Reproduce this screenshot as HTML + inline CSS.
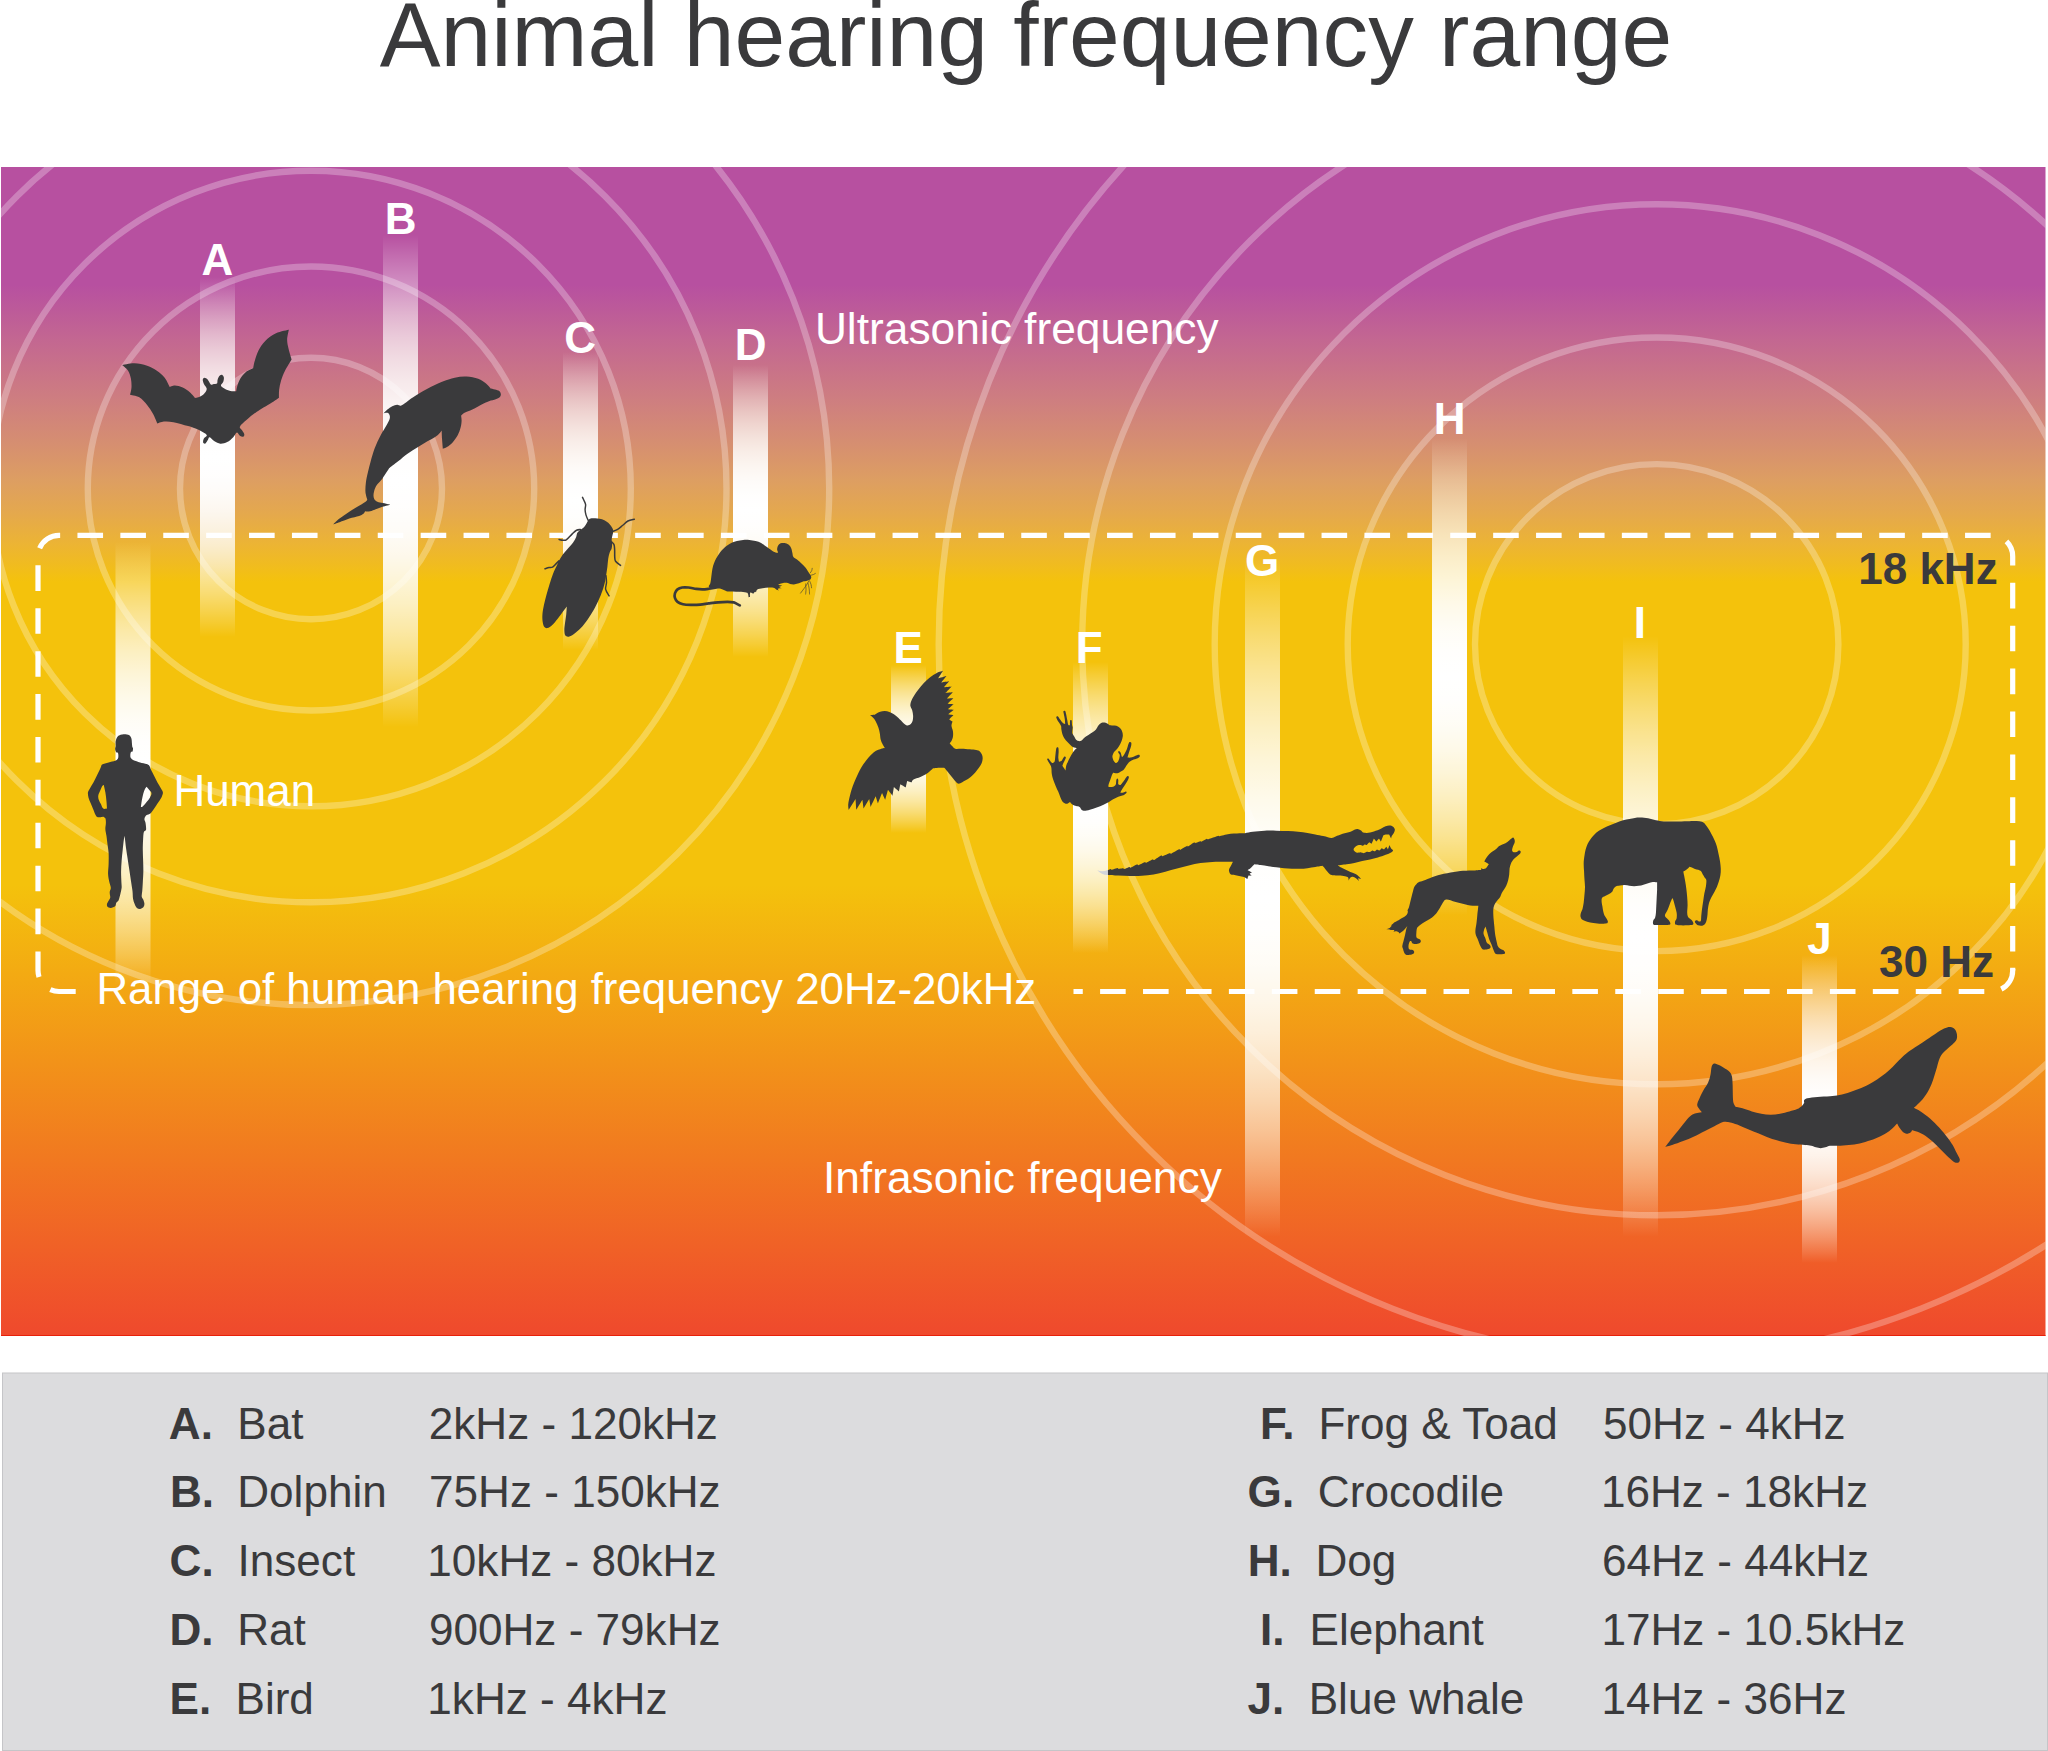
<!DOCTYPE html>
<html lang="en">
<head>
<meta charset="utf-8">
<title>Animal hearing frequency range</title>
<style>
html,body{margin:0;padding:0;background:#fff;}
body{width:2048px;height:1751px;overflow:hidden;}
svg{display:block;}
text{font-family:"Liberation Sans",Arial,Helvetica,sans-serif;}
.lbl{font-weight:bold;font-size:44px;fill:#fff;text-anchor:middle;}
.cap{font-size:44px;fill:#fff;}
.hz{font-weight:bold;font-size:44px;fill:#3a3a3c;}
.lg{font-size:45px;fill:#3a3a3c;}
.lgb{font-size:45px;fill:#3a3a3c;font-weight:bold;}
.an{fill:#3a3a3c;}
</style>
</head>
<body>
<svg xmlns="http://www.w3.org/2000/svg" width="2048" height="1751" viewBox="0 0 2048 1751">
<defs>
<linearGradient id="bg" x1="0" y1="0" x2="0" y2="1">
<stop offset="0.0000" stop-color="#b750a0"/>
<stop offset="0.1009" stop-color="#b750a0"/>
<stop offset="0.1480" stop-color="#c36791"/>
<stop offset="0.1993" stop-color="#ce7e80"/>
<stop offset="0.2335" stop-color="#d58d72"/>
<stop offset="0.2678" stop-color="#dd9e62"/>
<stop offset="0.2951" stop-color="#e4a84e"/>
<stop offset="0.3225" stop-color="#ecb434"/>
<stop offset="0.3430" stop-color="#f1bd1c"/>
<stop offset="0.3550" stop-color="#f4c20c"/>
<stop offset="0.6142" stop-color="#f4c20c"/>
<stop offset="1.0000" stop-color="#ef492d"/>
</linearGradient>
<linearGradient id="bar" x1="0" y1="0" x2="0" y2="1">
<stop offset="0" stop-color="#fff" stop-opacity="0.150"/>
<stop offset="0.04" stop-color="#fff" stop-opacity="0.281"/>
<stop offset="0.08" stop-color="#fff" stop-opacity="0.400"/>
<stop offset="0.12" stop-color="#fff" stop-opacity="0.509"/>
<stop offset="0.16" stop-color="#fff" stop-opacity="0.607"/>
<stop offset="0.2" stop-color="#fff" stop-opacity="0.694"/>
<stop offset="0.25" stop-color="#fff" stop-opacity="0.787"/>
<stop offset="0.3" stop-color="#fff" stop-opacity="0.864"/>
<stop offset="0.35" stop-color="#fff" stop-opacity="0.923"/>
<stop offset="0.4" stop-color="#fff" stop-opacity="0.966"/>
<stop offset="0.45" stop-color="#fff" stop-opacity="0.992"/>
<stop offset="0.5" stop-color="#fff" stop-opacity="1.000"/>
<stop offset="0.55" stop-color="#fff" stop-opacity="0.990"/>
<stop offset="0.6" stop-color="#fff" stop-opacity="0.960"/>
<stop offset="0.65" stop-color="#fff" stop-opacity="0.910"/>
<stop offset="0.7" stop-color="#fff" stop-opacity="0.840"/>
<stop offset="0.75" stop-color="#fff" stop-opacity="0.750"/>
<stop offset="0.8" stop-color="#fff" stop-opacity="0.640"/>
<stop offset="0.84" stop-color="#fff" stop-opacity="0.538"/>
<stop offset="0.88" stop-color="#fff" stop-opacity="0.422"/>
<stop offset="0.92" stop-color="#fff" stop-opacity="0.294"/>
<stop offset="0.96" stop-color="#fff" stop-opacity="0.154"/>
<stop offset="1" stop-color="#fff" stop-opacity="0.000"/>
</linearGradient>
<clipPath id="clip"><rect x="1" y="167" width="2044.5" height="1169"/></clipPath>
</defs>
<rect x="0" y="0" width="2048" height="1751" fill="#fff"/>
<text x="1026" y="65.8" font-size="91.2" text-anchor="middle" fill="#3a3a3c">Animal hearing frequency range</text>
<rect x="1" y="167" width="2044.5" height="1169" fill="url(#bg)"/>
<rect x="1" y="1335" width="2044.5" height="1" fill="#e8200a"/>
<g clip-path="url(#clip)" fill="none" stroke="#fff" stroke-opacity="0.28" stroke-width="6.4">
<ellipse cx="311" cy="488.5" rx="131" ry="130.7"/>
<ellipse cx="311" cy="488.5" rx="223.2" ry="222"/>
<ellipse cx="311" cy="488.5" rx="319.8" ry="317.8"/>
<ellipse cx="311" cy="488.5" rx="415.5" ry="413.8"/>
<ellipse cx="311" cy="488.5" rx="518.2" ry="516.6"/>
<ellipse cx="1656.7" cy="644.3" rx="181.7" ry="180.2"/>
<ellipse cx="1656.7" cy="644.3" rx="309" ry="306.8"/>
<ellipse cx="1656.7" cy="644.3" rx="442" ry="440"/>
<ellipse cx="1656.7" cy="644.3" rx="574.5" ry="571"/>
<ellipse cx="1656.7" cy="644.3" rx="718" ry="714.5"/>
</g>

<defs>
<linearGradient id="b0" x1="0" y1="0" x2="0" y2="1"><stop offset="0" stop-color="#fff" stop-opacity="0"/><stop offset="0.0000" stop-color="#fff" stop-opacity="0.000"/><stop offset="0.0400" stop-color="#fff" stop-opacity="0.154"/><stop offset="0.0800" stop-color="#fff" stop-opacity="0.294"/><stop offset="0.1200" stop-color="#fff" stop-opacity="0.422"/><stop offset="0.1600" stop-color="#fff" stop-opacity="0.538"/><stop offset="0.2000" stop-color="#fff" stop-opacity="0.640"/><stop offset="0.2500" stop-color="#fff" stop-opacity="0.750"/><stop offset="0.3000" stop-color="#fff" stop-opacity="0.840"/><stop offset="0.3500" stop-color="#fff" stop-opacity="0.910"/><stop offset="0.4000" stop-color="#fff" stop-opacity="0.960"/><stop offset="0.4500" stop-color="#fff" stop-opacity="0.990"/><stop offset="0.5000" stop-color="#fff" stop-opacity="1.000"/><stop offset="0.5500" stop-color="#fff" stop-opacity="0.990"/><stop offset="0.6000" stop-color="#fff" stop-opacity="0.960"/><stop offset="0.6500" stop-color="#fff" stop-opacity="0.910"/><stop offset="0.7000" stop-color="#fff" stop-opacity="0.840"/><stop offset="0.7500" stop-color="#fff" stop-opacity="0.750"/><stop offset="0.8000" stop-color="#fff" stop-opacity="0.640"/><stop offset="0.8400" stop-color="#fff" stop-opacity="0.538"/><stop offset="0.8800" stop-color="#fff" stop-opacity="0.422"/><stop offset="0.9200" stop-color="#fff" stop-opacity="0.294"/><stop offset="0.9600" stop-color="#fff" stop-opacity="0.154"/><stop offset="1.0000" stop-color="#fff" stop-opacity="0.000"/></linearGradient>
<linearGradient id="b1" x1="0" y1="0" x2="0" y2="1"><stop offset="0" stop-color="#fff" stop-opacity="0"/><stop offset="0.0000" stop-color="#fff" stop-opacity="0.000"/><stop offset="0.0400" stop-color="#fff" stop-opacity="0.154"/><stop offset="0.0800" stop-color="#fff" stop-opacity="0.294"/><stop offset="0.1200" stop-color="#fff" stop-opacity="0.422"/><stop offset="0.1600" stop-color="#fff" stop-opacity="0.538"/><stop offset="0.2000" stop-color="#fff" stop-opacity="0.640"/><stop offset="0.2500" stop-color="#fff" stop-opacity="0.750"/><stop offset="0.3000" stop-color="#fff" stop-opacity="0.840"/><stop offset="0.3500" stop-color="#fff" stop-opacity="0.910"/><stop offset="0.4000" stop-color="#fff" stop-opacity="0.960"/><stop offset="0.4500" stop-color="#fff" stop-opacity="0.990"/><stop offset="0.5000" stop-color="#fff" stop-opacity="1.000"/><stop offset="0.5500" stop-color="#fff" stop-opacity="0.990"/><stop offset="0.6000" stop-color="#fff" stop-opacity="0.960"/><stop offset="0.6500" stop-color="#fff" stop-opacity="0.910"/><stop offset="0.7000" stop-color="#fff" stop-opacity="0.840"/><stop offset="0.7500" stop-color="#fff" stop-opacity="0.750"/><stop offset="0.8000" stop-color="#fff" stop-opacity="0.640"/><stop offset="0.8400" stop-color="#fff" stop-opacity="0.538"/><stop offset="0.8800" stop-color="#fff" stop-opacity="0.422"/><stop offset="0.9200" stop-color="#fff" stop-opacity="0.294"/><stop offset="0.9600" stop-color="#fff" stop-opacity="0.154"/><stop offset="1.0000" stop-color="#fff" stop-opacity="0.000"/></linearGradient>
<linearGradient id="b2" x1="0" y1="0" x2="0" y2="1"><stop offset="0" stop-color="#fff" stop-opacity="0"/><stop offset="0.0000" stop-color="#fff" stop-opacity="0.000"/><stop offset="0.0400" stop-color="#fff" stop-opacity="0.154"/><stop offset="0.0800" stop-color="#fff" stop-opacity="0.294"/><stop offset="0.1200" stop-color="#fff" stop-opacity="0.422"/><stop offset="0.1600" stop-color="#fff" stop-opacity="0.538"/><stop offset="0.2000" stop-color="#fff" stop-opacity="0.640"/><stop offset="0.2500" stop-color="#fff" stop-opacity="0.750"/><stop offset="0.3000" stop-color="#fff" stop-opacity="0.840"/><stop offset="0.3500" stop-color="#fff" stop-opacity="0.910"/><stop offset="0.4000" stop-color="#fff" stop-opacity="0.960"/><stop offset="0.4500" stop-color="#fff" stop-opacity="0.990"/><stop offset="0.5000" stop-color="#fff" stop-opacity="1.000"/><stop offset="0.5500" stop-color="#fff" stop-opacity="0.990"/><stop offset="0.6000" stop-color="#fff" stop-opacity="0.960"/><stop offset="0.6500" stop-color="#fff" stop-opacity="0.910"/><stop offset="0.7000" stop-color="#fff" stop-opacity="0.840"/><stop offset="0.7500" stop-color="#fff" stop-opacity="0.750"/><stop offset="0.8000" stop-color="#fff" stop-opacity="0.640"/><stop offset="0.8400" stop-color="#fff" stop-opacity="0.538"/><stop offset="0.8800" stop-color="#fff" stop-opacity="0.422"/><stop offset="0.9200" stop-color="#fff" stop-opacity="0.294"/><stop offset="0.9600" stop-color="#fff" stop-opacity="0.154"/><stop offset="1.0000" stop-color="#fff" stop-opacity="0.000"/></linearGradient>
<linearGradient id="b3" x1="0" y1="0" x2="0" y2="1"><stop offset="0" stop-color="#fff" stop-opacity="0"/><stop offset="0.0000" stop-color="#fff" stop-opacity="0.000"/><stop offset="0.0400" stop-color="#fff" stop-opacity="0.154"/><stop offset="0.0800" stop-color="#fff" stop-opacity="0.294"/><stop offset="0.1200" stop-color="#fff" stop-opacity="0.422"/><stop offset="0.1600" stop-color="#fff" stop-opacity="0.538"/><stop offset="0.2000" stop-color="#fff" stop-opacity="0.640"/><stop offset="0.2500" stop-color="#fff" stop-opacity="0.750"/><stop offset="0.3000" stop-color="#fff" stop-opacity="0.840"/><stop offset="0.3500" stop-color="#fff" stop-opacity="0.910"/><stop offset="0.4000" stop-color="#fff" stop-opacity="0.960"/><stop offset="0.4500" stop-color="#fff" stop-opacity="0.990"/><stop offset="0.5000" stop-color="#fff" stop-opacity="1.000"/><stop offset="0.5500" stop-color="#fff" stop-opacity="0.990"/><stop offset="0.6000" stop-color="#fff" stop-opacity="0.960"/><stop offset="0.6500" stop-color="#fff" stop-opacity="0.910"/><stop offset="0.7000" stop-color="#fff" stop-opacity="0.840"/><stop offset="0.7500" stop-color="#fff" stop-opacity="0.750"/><stop offset="0.8000" stop-color="#fff" stop-opacity="0.640"/><stop offset="0.8400" stop-color="#fff" stop-opacity="0.538"/><stop offset="0.8800" stop-color="#fff" stop-opacity="0.422"/><stop offset="0.9200" stop-color="#fff" stop-opacity="0.294"/><stop offset="0.9600" stop-color="#fff" stop-opacity="0.154"/><stop offset="1.0000" stop-color="#fff" stop-opacity="0.000"/></linearGradient>
<linearGradient id="b4" x1="0" y1="0" x2="0" y2="1"><stop offset="0" stop-color="#fff" stop-opacity="0"/><stop offset="0.0000" stop-color="#fff" stop-opacity="0.000"/><stop offset="0.0400" stop-color="#fff" stop-opacity="0.154"/><stop offset="0.0800" stop-color="#fff" stop-opacity="0.294"/><stop offset="0.1200" stop-color="#fff" stop-opacity="0.422"/><stop offset="0.1600" stop-color="#fff" stop-opacity="0.538"/><stop offset="0.2000" stop-color="#fff" stop-opacity="0.640"/><stop offset="0.2500" stop-color="#fff" stop-opacity="0.750"/><stop offset="0.3000" stop-color="#fff" stop-opacity="0.840"/><stop offset="0.3500" stop-color="#fff" stop-opacity="0.910"/><stop offset="0.4000" stop-color="#fff" stop-opacity="0.960"/><stop offset="0.4500" stop-color="#fff" stop-opacity="0.990"/><stop offset="0.5000" stop-color="#fff" stop-opacity="1.000"/><stop offset="0.5500" stop-color="#fff" stop-opacity="0.990"/><stop offset="0.6000" stop-color="#fff" stop-opacity="0.960"/><stop offset="0.6500" stop-color="#fff" stop-opacity="0.910"/><stop offset="0.7000" stop-color="#fff" stop-opacity="0.840"/><stop offset="0.7500" stop-color="#fff" stop-opacity="0.750"/><stop offset="0.8000" stop-color="#fff" stop-opacity="0.640"/><stop offset="0.8400" stop-color="#fff" stop-opacity="0.538"/><stop offset="0.8800" stop-color="#fff" stop-opacity="0.422"/><stop offset="0.9200" stop-color="#fff" stop-opacity="0.294"/><stop offset="0.9600" stop-color="#fff" stop-opacity="0.154"/><stop offset="1.0000" stop-color="#fff" stop-opacity="0.000"/></linearGradient>
<linearGradient id="b5" x1="0" y1="0" x2="0" y2="1"><stop offset="0" stop-color="#fff" stop-opacity="0"/><stop offset="0.0000" stop-color="#fff" stop-opacity="0.000"/><stop offset="0.0400" stop-color="#fff" stop-opacity="0.154"/><stop offset="0.0800" stop-color="#fff" stop-opacity="0.294"/><stop offset="0.1200" stop-color="#fff" stop-opacity="0.422"/><stop offset="0.1600" stop-color="#fff" stop-opacity="0.538"/><stop offset="0.2000" stop-color="#fff" stop-opacity="0.640"/><stop offset="0.2500" stop-color="#fff" stop-opacity="0.750"/><stop offset="0.3000" stop-color="#fff" stop-opacity="0.840"/><stop offset="0.3500" stop-color="#fff" stop-opacity="0.910"/><stop offset="0.4000" stop-color="#fff" stop-opacity="0.960"/><stop offset="0.4500" stop-color="#fff" stop-opacity="0.990"/><stop offset="0.5000" stop-color="#fff" stop-opacity="1.000"/><stop offset="0.5500" stop-color="#fff" stop-opacity="0.990"/><stop offset="0.6000" stop-color="#fff" stop-opacity="0.960"/><stop offset="0.6500" stop-color="#fff" stop-opacity="0.910"/><stop offset="0.7000" stop-color="#fff" stop-opacity="0.840"/><stop offset="0.7500" stop-color="#fff" stop-opacity="0.750"/><stop offset="0.8000" stop-color="#fff" stop-opacity="0.640"/><stop offset="0.8400" stop-color="#fff" stop-opacity="0.538"/><stop offset="0.8800" stop-color="#fff" stop-opacity="0.422"/><stop offset="0.9200" stop-color="#fff" stop-opacity="0.294"/><stop offset="0.9600" stop-color="#fff" stop-opacity="0.154"/><stop offset="1.0000" stop-color="#fff" stop-opacity="0.000"/></linearGradient>
<linearGradient id="b6" x1="0" y1="0" x2="0" y2="1"><stop offset="0" stop-color="#fff" stop-opacity="0"/><stop offset="0.0000" stop-color="#fff" stop-opacity="0.000"/><stop offset="0.0400" stop-color="#fff" stop-opacity="0.154"/><stop offset="0.0800" stop-color="#fff" stop-opacity="0.294"/><stop offset="0.1200" stop-color="#fff" stop-opacity="0.422"/><stop offset="0.1600" stop-color="#fff" stop-opacity="0.538"/><stop offset="0.2000" stop-color="#fff" stop-opacity="0.640"/><stop offset="0.2500" stop-color="#fff" stop-opacity="0.750"/><stop offset="0.3000" stop-color="#fff" stop-opacity="0.840"/><stop offset="0.3500" stop-color="#fff" stop-opacity="0.910"/><stop offset="0.4000" stop-color="#fff" stop-opacity="0.960"/><stop offset="0.4500" stop-color="#fff" stop-opacity="0.990"/><stop offset="0.5000" stop-color="#fff" stop-opacity="1.000"/><stop offset="0.5500" stop-color="#fff" stop-opacity="0.990"/><stop offset="0.6000" stop-color="#fff" stop-opacity="0.960"/><stop offset="0.6500" stop-color="#fff" stop-opacity="0.910"/><stop offset="0.7000" stop-color="#fff" stop-opacity="0.840"/><stop offset="0.7500" stop-color="#fff" stop-opacity="0.750"/><stop offset="0.8000" stop-color="#fff" stop-opacity="0.640"/><stop offset="0.8400" stop-color="#fff" stop-opacity="0.538"/><stop offset="0.8800" stop-color="#fff" stop-opacity="0.422"/><stop offset="0.9200" stop-color="#fff" stop-opacity="0.294"/><stop offset="0.9600" stop-color="#fff" stop-opacity="0.154"/><stop offset="1.0000" stop-color="#fff" stop-opacity="0.000"/></linearGradient>
<linearGradient id="b7" x1="0" y1="0" x2="0" y2="1"><stop offset="0" stop-color="#fff" stop-opacity="0"/><stop offset="0.0000" stop-color="#fff" stop-opacity="0.000"/><stop offset="0.0400" stop-color="#fff" stop-opacity="0.154"/><stop offset="0.0800" stop-color="#fff" stop-opacity="0.294"/><stop offset="0.1200" stop-color="#fff" stop-opacity="0.422"/><stop offset="0.1600" stop-color="#fff" stop-opacity="0.538"/><stop offset="0.2000" stop-color="#fff" stop-opacity="0.640"/><stop offset="0.2500" stop-color="#fff" stop-opacity="0.750"/><stop offset="0.3000" stop-color="#fff" stop-opacity="0.840"/><stop offset="0.3500" stop-color="#fff" stop-opacity="0.910"/><stop offset="0.4000" stop-color="#fff" stop-opacity="0.960"/><stop offset="0.4500" stop-color="#fff" stop-opacity="0.990"/><stop offset="0.5000" stop-color="#fff" stop-opacity="1.000"/><stop offset="0.5500" stop-color="#fff" stop-opacity="0.990"/><stop offset="0.6000" stop-color="#fff" stop-opacity="0.960"/><stop offset="0.6500" stop-color="#fff" stop-opacity="0.910"/><stop offset="0.7000" stop-color="#fff" stop-opacity="0.840"/><stop offset="0.7500" stop-color="#fff" stop-opacity="0.750"/><stop offset="0.8000" stop-color="#fff" stop-opacity="0.640"/><stop offset="0.8400" stop-color="#fff" stop-opacity="0.538"/><stop offset="0.8800" stop-color="#fff" stop-opacity="0.422"/><stop offset="0.9200" stop-color="#fff" stop-opacity="0.294"/><stop offset="0.9600" stop-color="#fff" stop-opacity="0.154"/><stop offset="1.0000" stop-color="#fff" stop-opacity="0.000"/></linearGradient>
<linearGradient id="b8" x1="0" y1="0" x2="0" y2="1"><stop offset="0" stop-color="#fff" stop-opacity="0"/><stop offset="0.0000" stop-color="#fff" stop-opacity="0.000"/><stop offset="0.0400" stop-color="#fff" stop-opacity="0.154"/><stop offset="0.0800" stop-color="#fff" stop-opacity="0.294"/><stop offset="0.1200" stop-color="#fff" stop-opacity="0.422"/><stop offset="0.1600" stop-color="#fff" stop-opacity="0.538"/><stop offset="0.2000" stop-color="#fff" stop-opacity="0.640"/><stop offset="0.2500" stop-color="#fff" stop-opacity="0.750"/><stop offset="0.3000" stop-color="#fff" stop-opacity="0.840"/><stop offset="0.3500" stop-color="#fff" stop-opacity="0.910"/><stop offset="0.4000" stop-color="#fff" stop-opacity="0.960"/><stop offset="0.4500" stop-color="#fff" stop-opacity="0.990"/><stop offset="0.5000" stop-color="#fff" stop-opacity="1.000"/><stop offset="0.5500" stop-color="#fff" stop-opacity="0.990"/><stop offset="0.6000" stop-color="#fff" stop-opacity="0.960"/><stop offset="0.6500" stop-color="#fff" stop-opacity="0.910"/><stop offset="0.7000" stop-color="#fff" stop-opacity="0.840"/><stop offset="0.7500" stop-color="#fff" stop-opacity="0.750"/><stop offset="0.8000" stop-color="#fff" stop-opacity="0.640"/><stop offset="0.8400" stop-color="#fff" stop-opacity="0.538"/><stop offset="0.8800" stop-color="#fff" stop-opacity="0.422"/><stop offset="0.9200" stop-color="#fff" stop-opacity="0.294"/><stop offset="0.9600" stop-color="#fff" stop-opacity="0.154"/><stop offset="1.0000" stop-color="#fff" stop-opacity="0.000"/></linearGradient>
<linearGradient id="b9" x1="0" y1="0" x2="0" y2="1"><stop offset="0" stop-color="#fff" stop-opacity="0"/><stop offset="0.0000" stop-color="#fff" stop-opacity="0.000"/><stop offset="0.0400" stop-color="#fff" stop-opacity="0.154"/><stop offset="0.0800" stop-color="#fff" stop-opacity="0.294"/><stop offset="0.1200" stop-color="#fff" stop-opacity="0.422"/><stop offset="0.1600" stop-color="#fff" stop-opacity="0.538"/><stop offset="0.2000" stop-color="#fff" stop-opacity="0.640"/><stop offset="0.2500" stop-color="#fff" stop-opacity="0.750"/><stop offset="0.3000" stop-color="#fff" stop-opacity="0.840"/><stop offset="0.3500" stop-color="#fff" stop-opacity="0.910"/><stop offset="0.4000" stop-color="#fff" stop-opacity="0.960"/><stop offset="0.4500" stop-color="#fff" stop-opacity="0.990"/><stop offset="0.5000" stop-color="#fff" stop-opacity="1.000"/><stop offset="0.5500" stop-color="#fff" stop-opacity="0.990"/><stop offset="0.6000" stop-color="#fff" stop-opacity="0.960"/><stop offset="0.6500" stop-color="#fff" stop-opacity="0.910"/><stop offset="0.7000" stop-color="#fff" stop-opacity="0.840"/><stop offset="0.7500" stop-color="#fff" stop-opacity="0.750"/><stop offset="0.8000" stop-color="#fff" stop-opacity="0.640"/><stop offset="0.8400" stop-color="#fff" stop-opacity="0.538"/><stop offset="0.8800" stop-color="#fff" stop-opacity="0.422"/><stop offset="0.9200" stop-color="#fff" stop-opacity="0.294"/><stop offset="0.9600" stop-color="#fff" stop-opacity="0.154"/><stop offset="1.0000" stop-color="#fff" stop-opacity="0.000"/></linearGradient>
<linearGradient id="b10" x1="0" y1="0" x2="0" y2="1"><stop offset="0" stop-color="#fff" stop-opacity="0"/><stop offset="0.0000" stop-color="#fff" stop-opacity="0.000"/><stop offset="0.0400" stop-color="#fff" stop-opacity="0.154"/><stop offset="0.0800" stop-color="#fff" stop-opacity="0.294"/><stop offset="0.1200" stop-color="#fff" stop-opacity="0.422"/><stop offset="0.1600" stop-color="#fff" stop-opacity="0.538"/><stop offset="0.2000" stop-color="#fff" stop-opacity="0.640"/><stop offset="0.2500" stop-color="#fff" stop-opacity="0.750"/><stop offset="0.3000" stop-color="#fff" stop-opacity="0.840"/><stop offset="0.3500" stop-color="#fff" stop-opacity="0.910"/><stop offset="0.4000" stop-color="#fff" stop-opacity="0.960"/><stop offset="0.4500" stop-color="#fff" stop-opacity="0.990"/><stop offset="0.5000" stop-color="#fff" stop-opacity="1.000"/><stop offset="0.5500" stop-color="#fff" stop-opacity="0.990"/><stop offset="0.6000" stop-color="#fff" stop-opacity="0.960"/><stop offset="0.6500" stop-color="#fff" stop-opacity="0.910"/><stop offset="0.7000" stop-color="#fff" stop-opacity="0.840"/><stop offset="0.7500" stop-color="#fff" stop-opacity="0.750"/><stop offset="0.8000" stop-color="#fff" stop-opacity="0.640"/><stop offset="0.8400" stop-color="#fff" stop-opacity="0.538"/><stop offset="0.8800" stop-color="#fff" stop-opacity="0.422"/><stop offset="0.9200" stop-color="#fff" stop-opacity="0.294"/><stop offset="0.9600" stop-color="#fff" stop-opacity="0.154"/><stop offset="1.0000" stop-color="#fff" stop-opacity="0.000"/></linearGradient>
</defs>
<g>
<rect x="115.5" y="542" width="35" height="443" fill="url(#b0)"/>
<rect x="200" y="277" width="35" height="360" fill="url(#b1)"/>
<rect x="383" y="235" width="35" height="492" fill="url(#b2)"/>
<rect x="563" y="352" width="35" height="298" fill="url(#b3)"/>
<rect x="733" y="365" width="35" height="292" fill="url(#b4)"/>
<rect x="891" y="665" width="35" height="168" fill="url(#b5)"/>
<rect x="1073" y="662" width="35" height="291" fill="url(#b6)"/>
<rect x="1245" y="557" width="35" height="680" fill="url(#b7)"/>
<rect x="1432" y="438" width="35" height="477" fill="url(#b8)"/>
<rect x="1623" y="636" width="35" height="601" fill="url(#b9)"/>
<rect x="1802" y="955" width="35" height="308" fill="url(#b10)"/>
</g>
<g fill="none" stroke="#fff" stroke-width="5.2">
<path d="M76 991.5 H59 A21 21 0 0 1 38 970.5 V556.4 A21 21 0 0 1 59 535.4 H1991.7 A21 21 0 0 1 2012.7 556.4 V970.5" stroke-dasharray="25.6 17.3" stroke-dashoffset="42.6"/>
<path d="M2012.7 967.75 V970.5 A21 21 0 0 1 1991.7 991.5 H1073.5" stroke-dasharray="25.6 17.33"/>
</g>

<g class="an" transform="translate(50 725) scale(0.108538)">
<path d="M685.0 85.0C698.3 85.8 719.2 88.3 730.0 95.0C740.8 101.7 745.8 112.5 750.0 125.0C754.2 137.5 753.7 157.5 755.0 170.0C756.3 182.0 756.3 192.5 758.0 200.0C759.4 206.5 764.7 208.4 765.0 215.0C765.3 222.5 763.3 239.2 760.0 245.0C756.9 250.5 748.1 244.5 745.0 250.0C741.7 255.8 740.0 270.8 740.0 280.0C740.0 289.2 740.0 297.5 745.0 305.0C750.0 312.5 758.4 319.5 770.0 325.0C784.2 331.7 810.0 339.2 830.0 345.0C850.0 350.8 875.8 355.0 890.0 360.0C901.0 363.9 908.3 366.7 915.0 375.0C921.7 383.3 923.5 396.2 930.0 410.0C937.5 425.8 950.0 450.0 960.0 470.0C970.0 490.0 980.0 511.7 990.0 530.0C1000.0 548.3 1011.7 565.0 1020.0 580.0C1028.3 595.0 1038.3 606.7 1040.0 620.0C1041.7 633.3 1036.7 645.0 1030.0 660.0C1023.3 675.0 1011.7 691.7 1000.0 710.0C988.3 728.3 972.5 752.5 960.0 770.0C947.5 787.5 936.7 805.0 925.0 815.0C913.4 824.9 899.2 821.7 890.0 830.0C880.8 838.3 871.7 853.3 870.0 865.0C868.3 876.7 877.8 885.6 880.0 900.0C882.5 916.7 887.5 950.8 885.0 965.0C883.0 976.1 868.4 974.2 865.0 985.0C860.5 999.2 859.6 1023.9 858.0 1050.0C856.3 1077.5 855.0 1116.7 855.0 1150.0C855.0 1183.3 857.2 1216.7 858.0 1250.0C858.8 1283.3 860.5 1316.7 860.0 1350.0C859.5 1383.3 856.7 1420.0 855.0 1450.0C853.3 1480.0 851.7 1508.3 850.0 1530.0C848.5 1550.0 843.3 1566.7 845.0 1580.0C846.7 1593.3 855.8 1598.3 860.0 1610.0C864.2 1621.7 870.0 1638.3 870.0 1650.0C870.0 1661.7 866.7 1672.5 860.0 1680.0C853.3 1687.5 840.0 1694.2 830.0 1695.0C820.0 1695.8 808.3 1692.5 800.0 1685.0C791.7 1677.5 785.8 1664.2 780.0 1650.0C774.2 1635.8 768.3 1620.0 765.0 1600.0C761.7 1580.0 763.3 1557.9 760.0 1530.0C756.7 1501.7 750.0 1463.3 745.0 1430.0C740.0 1396.7 735.0 1363.3 730.0 1330.0C725.0 1296.7 720.0 1263.3 715.0 1230.0C710.0 1196.7 704.2 1161.7 700.0 1130.0C695.8 1098.3 692.0 1058.3 690.0 1040.0C689.1 1032.0 688.0 1020.0 688.0 1020.0C688.0 1020.0 682.2 1043.8 680.0 1060.0C677.0 1081.7 673.3 1118.3 670.0 1150.0C666.7 1181.7 662.5 1216.7 660.0 1250.0C657.5 1283.3 655.3 1316.7 655.0 1350.0C654.7 1383.3 657.2 1425.0 658.0 1450.0C658.7 1470.0 661.3 1483.3 660.0 1500.0C658.7 1516.7 653.3 1535.0 650.0 1550.0C646.7 1565.0 643.3 1578.3 640.0 1590.0C636.7 1601.7 635.0 1611.7 630.0 1620.0C625.0 1628.3 615.0 1631.7 610.0 1640.0C605.0 1648.3 608.3 1662.5 600.0 1670.0C591.7 1677.5 571.7 1684.2 560.0 1685.0C548.3 1685.8 535.8 1680.8 530.0 1675.0C524.2 1669.2 523.3 1659.2 525.0 1650.0C526.7 1640.8 535.0 1630.0 540.0 1620.0C545.0 1610.0 553.3 1603.3 555.0 1590.0C556.7 1576.7 549.2 1555.0 550.0 1540.0C550.8 1525.0 560.8 1516.5 560.0 1500.0C559.2 1483.3 549.2 1461.7 545.0 1440.0C540.8 1418.3 535.8 1396.7 535.0 1370.0C534.2 1343.3 539.2 1311.7 540.0 1280.0C540.8 1248.3 541.7 1210.0 540.0 1180.0C538.3 1150.0 533.3 1126.7 530.0 1100.0C526.7 1073.3 523.3 1043.3 520.0 1020.0C516.7 996.7 510.8 980.0 510.0 960.0C509.2 940.0 515.0 916.7 515.0 900.0C515.0 883.9 514.2 869.2 510.0 860.0C505.9 850.9 490.0 845.0 490.0 845.0C490.0 845.0 451.7 852.5 440.0 850.0C428.9 847.6 425.6 839.8 420.0 830.0C413.3 818.3 407.5 798.3 400.0 780.0C392.5 761.7 382.5 738.3 375.0 720.0C367.5 701.7 359.2 686.7 355.0 670.0C350.8 653.3 347.5 635.0 350.0 620.0C352.5 605.0 361.7 595.0 370.0 580.0C378.3 565.0 390.0 548.3 400.0 530.0C410.0 511.7 420.8 488.3 430.0 470.0C439.2 451.7 448.3 434.2 455.0 420.0C461.5 406.2 465.8 394.2 470.0 385.0C473.7 376.9 472.2 369.4 480.0 365.0C491.7 358.3 520.0 350.8 540.0 345.0C560.0 339.2 585.8 335.8 600.0 330.0C611.8 325.1 620.0 318.3 625.0 310.0C630.0 301.7 630.0 289.2 630.0 280.0C630.0 270.8 628.3 260.0 625.0 255.0C621.7 250.0 613.7 255.1 610.0 250.0C605.8 244.2 600.8 229.2 600.0 220.0C599.2 210.8 604.3 205.2 605.0 195.0C605.8 183.3 602.5 164.2 605.0 150.0C607.5 135.8 612.5 120.0 620.0 110.0C627.5 100.0 639.2 94.2 650.0 90.0C660.8 85.8 671.7 84.2 685.0 85.0ZM495.0 550.0C495.0 550.0 505.8 595.0 510.0 620.0C514.2 645.0 517.5 675.0 520.0 700.0C522.5 725.0 525.0 770.0 525.0 770.0C525.0 770.0 499.2 776.7 490.0 770.0C480.8 763.3 476.7 743.3 470.0 730.0C463.3 716.7 454.2 703.3 450.0 690.0C445.8 676.7 442.5 665.0 445.0 650.0C447.5 635.0 459.2 614.2 465.0 600.0C470.8 585.9 475.0 573.3 480.0 565.0C484.4 557.7 495.0 550.0 495.0 550.0ZM890.0 570.0C890.0 570.0 907.5 590.0 915.0 600.0C922.5 610.0 934.2 618.3 935.0 630.0C935.8 641.7 927.5 656.7 920.0 670.0C912.5 683.3 900.8 696.7 890.0 710.0C879.2 723.3 863.7 742.5 855.0 750.0C849.6 754.6 838.0 755.0 838.0 755.0C838.0 755.0 841.3 720.8 845.0 700.0C848.7 679.2 855.0 648.3 860.0 630.0C864.5 613.5 870.0 600.0 875.0 590.0C879.5 581.1 890.0 570.0 890.0 570.0Z" fill-rule="evenodd"/>
</g>

<g class="an" transform="translate(110 320) scale(0.097656)">
<path d="M125.0 462.0C125.0 462.0 207.5 442.0 250.0 443.0C292.5 444.0 341.7 455.2 380.0 468.0C418.3 480.8 450.0 499.3 480.0 520.0C510.0 540.7 538.0 564.0 560.0 592.0C582.0 620.0 612.0 688.0 612.0 688.0C612.0 688.0 642.9 671.3 665.0 672.0C687.2 672.7 719.2 680.3 745.0 692.0C770.8 703.7 798.8 724.0 820.0 742.0C841.2 760.0 872.0 800.0 872.0 800.0C872.0 800.0 913.3 791.2 930.0 782.0C946.7 772.8 962.0 758.3 972.0 745.0C982.0 731.7 991.7 717.0 990.0 702.0C988.3 687.0 968.7 670.0 962.0 655.0C955.3 640.0 949.0 622.5 950.0 612.0C951.0 601.5 959.7 592.3 968.0 592.0C976.3 591.7 989.9 599.3 1000.0 610.0C1010.7 621.3 1021.7 652.5 1032.0 660.0C1041.8 667.1 1051.3 656.7 1062.0 655.0C1072.7 653.3 1089.3 657.2 1096.0 650.0C1102.7 642.8 1097.7 625.0 1102.0 612.0C1106.3 599.0 1114.0 580.3 1122.0 572.0C1130.0 563.7 1142.7 559.0 1150.0 562.0C1157.3 565.0 1164.3 578.3 1166.0 590.0C1167.7 601.7 1165.0 618.3 1160.0 632.0C1155.0 645.7 1133.5 659.8 1136.0 672.0C1138.5 684.2 1159.0 695.7 1175.0 705.0C1191.0 714.3 1212.5 723.8 1232.0 728.0C1251.5 732.2 1292.0 730.0 1292.0 730.0C1292.0 730.0 1295.6 699.4 1302.0 680.0C1309.2 658.3 1320.0 624.7 1335.0 600.0C1350.0 575.3 1370.2 549.7 1392.0 532.0C1413.8 514.3 1466.0 494.0 1466.0 494.0C1466.0 494.0 1473.2 449.0 1482.0 420.0C1491.3 389.3 1503.7 344.7 1522.0 310.0C1540.3 275.3 1562.3 241.0 1592.0 212.0C1621.7 183.0 1660.0 154.7 1700.0 136.0C1740.0 117.3 1832.0 100.0 1832.0 100.0C1832.0 100.0 1814.7 168.0 1814.0 200.0C1813.3 232.0 1820.3 257.8 1828.0 292.0C1835.7 326.2 1860.0 405.0 1860.0 405.0C1860.0 405.0 1810.0 484.2 1792.0 520.0C1774.0 555.8 1762.0 587.5 1752.0 620.0C1742.0 652.5 1735.7 685.8 1732.0 715.0C1728.3 744.2 1730.0 795.0 1730.0 795.0C1730.0 795.0 1682.7 829.1 1650.0 850.0C1611.7 874.5 1541.7 913.3 1500.0 942.0C1458.3 970.7 1428.3 997.0 1400.0 1022.0C1371.7 1047.0 1338.0 1074.0 1330.0 1092.0C1322.9 1108.0 1344.5 1117.0 1352.0 1130.0C1359.5 1143.0 1373.0 1159.2 1375.0 1170.0C1377.0 1180.7 1371.5 1192.3 1364.0 1195.0C1356.5 1197.7 1340.7 1193.2 1330.0 1186.0C1319.3 1178.8 1311.3 1149.7 1300.0 1152.0C1288.7 1154.3 1278.7 1183.7 1262.0 1200.0C1245.3 1216.3 1222.0 1239.0 1200.0 1250.0C1178.0 1261.0 1151.7 1267.3 1130.0 1266.0C1108.3 1264.7 1088.3 1253.0 1070.0 1242.0C1051.7 1231.0 1031.7 1201.7 1020.0 1200.0C1008.3 1198.3 1007.5 1221.0 1000.0 1232.0C992.5 1243.0 982.7 1262.2 975.0 1266.0C967.3 1269.8 956.5 1263.5 954.0 1255.0C951.5 1246.5 954.0 1228.0 960.0 1215.0C966.0 1202.0 1000.0 1192.5 990.0 1177.0C980.0 1161.5 931.7 1137.2 900.0 1122.0C868.3 1106.8 840.7 1098.4 800.0 1086.0C758.3 1073.3 691.3 1053.7 650.0 1046.0C611.4 1038.8 579.5 1037.7 552.0 1040.0C524.5 1042.3 485.0 1060.0 485.0 1060.0C485.0 1060.0 457.5 991.7 440.0 960.0C422.5 928.3 403.3 898.0 380.0 870.0C356.7 842.0 329.2 809.5 300.0 792.0C270.8 774.5 205.0 765.0 205.0 765.0C205.0 765.0 218.5 717.5 220.0 690.0C221.5 662.5 219.8 628.3 214.0 600.0C208.2 571.7 199.8 543.0 185.0 520.0C170.2 497.0 125.0 462.0 125.0 462.0Z"/>
</g>

<g class="an" transform="translate(320 365) scale(0.097656)">
<path d="M1852.0 300.0C1851.3 289.2 1846.0 274.3 1836.0 266.0C1826.0 257.7 1807.0 254.3 1792.0 250.0C1777.0 245.7 1746.0 240.0 1746.0 240.0C1746.0 240.0 1721.0 206.3 1700.0 190.0C1679.0 173.7 1653.3 154.0 1620.0 142.0C1586.7 130.0 1540.0 120.0 1500.0 118.0C1460.0 116.0 1421.7 121.0 1380.0 130.0C1338.3 139.0 1296.7 153.3 1250.0 172.0C1203.3 190.7 1150.0 215.3 1100.0 242.0C1050.0 268.7 994.7 303.2 950.0 332.0C905.3 360.8 858.7 402.3 832.0 415.0C816.6 422.3 805.3 406.8 790.0 408.0C774.7 409.2 756.7 414.0 740.0 422.0C723.3 430.0 705.0 443.5 690.0 456.0C675.0 468.5 650.0 497.0 650.0 497.0C650.0 497.0 679.7 487.5 690.0 490.0C700.3 492.5 708.0 502.3 712.0 512.0C716.0 521.7 717.4 534.0 714.0 548.0C710.3 563.0 701.2 581.2 690.0 602.0C674.3 631.0 641.7 680.3 620.0 722.0C598.3 763.7 576.7 808.7 560.0 852.0C543.3 895.3 531.7 940.3 520.0 982.0C508.3 1023.7 498.3 1065.3 490.0 1102.0C481.7 1138.7 474.2 1170.3 470.0 1202.0C465.8 1233.7 464.2 1267.3 465.0 1292.0C465.8 1315.5 472.5 1334.2 475.0 1350.0C477.3 1364.8 489.4 1375.4 480.0 1387.0C467.5 1402.3 430.0 1422.8 400.0 1442.0C370.0 1461.2 333.3 1480.3 300.0 1502.0C266.7 1523.7 227.5 1550.3 200.0 1572.0C172.5 1593.7 135.0 1632.0 135.0 1632.0C135.0 1632.0 174.2 1619.4 200.0 1610.0C227.5 1600.0 266.7 1582.7 300.0 1572.0C333.3 1561.3 375.8 1554.3 400.0 1546.0C419.3 1539.3 434.7 1530.0 445.0 1522.0C454.3 1514.8 462.0 1498.0 462.0 1498.0C462.0 1498.0 485.0 1502.6 500.0 1500.0C516.3 1497.2 536.7 1489.2 560.0 1481.0C583.3 1472.8 613.3 1459.5 640.0 1451.0C666.7 1442.5 720.0 1430.0 720.0 1430.0C720.0 1430.0 680.0 1419.2 660.0 1415.0C640.0 1410.8 616.7 1410.8 600.0 1405.0C583.3 1399.2 568.7 1390.8 560.0 1380.0C551.3 1369.2 548.8 1355.0 548.0 1340.0C547.2 1325.0 549.7 1308.0 555.0 1290.0C560.3 1272.0 566.0 1253.0 580.0 1232.0C594.2 1210.7 618.3 1191.3 640.0 1162.0C661.7 1132.7 710.0 1056.0 710.0 1056.0C710.0 1056.0 768.3 1011.0 800.0 986.0C831.7 961.0 866.7 930.0 900.0 906.0C933.3 882.0 966.7 862.7 1000.0 842.0C1033.3 821.3 1066.7 802.0 1100.0 782.0C1133.3 762.0 1175.7 740.7 1200.0 722.0C1222.0 705.1 1246.0 670.0 1246.0 670.0C1246.0 670.0 1248.0 728.7 1250.0 760.0C1252.0 791.3 1258.0 858.0 1258.0 858.0C1258.0 858.0 1284.8 850.1 1300.0 840.0C1317.0 828.7 1341.7 810.0 1360.0 790.0C1378.3 770.0 1396.7 745.0 1410.0 720.0C1423.3 695.0 1433.3 665.0 1440.0 640.0C1446.7 615.0 1449.2 590.0 1450.0 570.0C1450.8 550.0 1445.0 520.0 1445.0 520.0C1445.0 520.0 1463.9 499.0 1480.0 490.0C1499.2 479.3 1531.7 470.0 1560.0 456.0C1588.3 442.0 1621.7 420.2 1650.0 406.0C1678.3 391.8 1705.0 380.2 1730.0 371.0C1755.0 361.8 1781.7 357.7 1800.0 351.0C1816.8 344.9 1831.3 339.5 1840.0 331.0C1848.7 322.5 1852.7 310.8 1852.0 300.0Z"/>
</g>

<g class="an" transform="translate(520 490) scale(0.085653)">
<path d="M800.0 345.0C807.5 339.0 821.7 332.5 835.0 330.0C848.3 327.5 864.2 329.0 880.0 330.0C895.8 331.0 912.5 332.3 930.0 336.0C947.5 339.7 968.3 344.3 985.0 352.0C1001.7 359.7 1016.7 370.3 1030.0 382.0C1043.3 393.7 1055.7 408.7 1065.0 422.0C1074.3 435.3 1082.5 448.7 1086.0 462.0C1089.5 475.3 1087.7 488.7 1086.0 502.0C1084.3 515.3 1078.7 528.7 1076.0 542.0C1073.3 555.3 1070.0 568.7 1070.0 582.0C1070.0 595.3 1076.0 605.8 1076.0 622.0C1076.0 638.7 1074.3 665.3 1070.0 682.0C1065.7 698.7 1055.7 705.0 1050.0 722.0C1043.3 742.0 1035.0 772.3 1030.0 802.0C1025.0 831.7 1024.2 867.0 1020.0 900.0C1015.8 933.0 1010.0 969.7 1005.0 1000.0C1000.0 1030.3 997.5 1051.7 990.0 1082.0C982.5 1112.3 971.7 1148.7 960.0 1182.0C948.3 1215.3 936.7 1245.3 920.0 1282.0C903.3 1318.7 881.7 1363.7 860.0 1402.0C838.3 1440.3 815.0 1477.0 790.0 1512.0C765.0 1547.0 736.7 1583.7 710.0 1612.0C683.3 1640.3 653.3 1665.3 630.0 1682.0C608.2 1697.6 586.7 1709.0 570.0 1712.0C553.6 1715.0 538.7 1712.0 530.0 1700.0C521.3 1688.0 518.8 1663.3 518.0 1640.0C517.2 1616.7 521.3 1591.7 525.0 1560.0C528.7 1528.3 536.5 1483.3 540.0 1450.0C543.5 1416.7 546.0 1360.0 546.0 1360.0C546.0 1360.0 517.7 1398.3 500.0 1422.0C482.3 1445.7 460.0 1477.0 440.0 1502.0C420.0 1527.0 400.0 1553.7 380.0 1572.0C360.0 1590.3 335.8 1607.3 320.0 1612.0C305.8 1616.2 294.0 1611.8 285.0 1600.0C275.8 1588.0 268.8 1565.0 265.0 1540.0C261.2 1515.0 259.5 1483.3 262.0 1450.0C264.5 1416.7 272.0 1378.3 280.0 1340.0C288.0 1301.7 299.2 1260.0 310.0 1220.0C320.8 1180.0 332.5 1140.0 345.0 1100.0C357.5 1060.0 370.8 1016.3 385.0 980.0C399.2 943.7 418.8 906.7 430.0 882.0C439.0 862.1 441.6 851.2 452.0 832.0C463.7 810.3 482.0 777.0 500.0 752.0C518.0 727.0 540.0 705.3 560.0 682.0C580.0 658.7 604.2 633.7 620.0 612.0C635.8 590.3 647.0 570.3 655.0 552.0C663.0 533.7 660.5 515.7 668.0 502.0C675.5 488.3 688.0 480.0 700.0 470.0C712.0 460.0 728.3 453.3 740.0 442.0C751.7 430.7 761.7 414.7 770.0 402.0C778.3 389.3 785.0 375.5 790.0 366.0C794.3 357.8 792.7 350.8 800.0 345.0Z"/>
<path d="M795.0 352.0C790.8 341.7 775.8 310.3 770.0 290.0C764.2 269.7 760.7 250.0 760.0 230.0C759.3 210.0 768.3 188.3 766.0 170.0C763.7 151.7 752.0 134.0 746.0 120.0C740.1 106.2 732.7 91.7 730.0 86.0" fill="none" stroke="#3a3a3c" stroke-width="17" stroke-linecap="round" stroke-linejoin="round"/>
<path d="M1085.0 482.0C1094.2 478.3 1120.8 471.7 1140.0 460.0C1159.2 448.3 1180.0 428.3 1200.0 412.0C1220.0 395.7 1237.5 373.8 1260.0 362.0C1282.5 350.2 1322.5 344.5 1335.0 341.0" fill="none" stroke="#3a3a3c" stroke-width="17" stroke-linecap="round" stroke-linejoin="round"/>
<path d="M705.0 462.0C697.5 463.3 675.8 461.7 660.0 470.0C644.2 478.3 629.1 494.2 610.0 512.0C590.0 530.7 558.3 569.7 540.0 582.0C526.7 591.0 514.0 586.7 500.0 586.0C486.0 585.3 463.3 579.3 456.0 578.0" fill="none" stroke="#3a3a3c" stroke-width="18" stroke-linecap="round" stroke-linejoin="round"/>
<path d="M455.0 828.0C449.2 833.7 432.5 850.0 420.0 862.0C407.5 874.0 393.3 892.7 380.0 900.0C366.7 907.3 354.7 902.7 340.0 906.0C325.3 909.3 300.0 917.7 292.0 920.0" fill="none" stroke="#3a3a3c" stroke-width="18" stroke-linecap="round" stroke-linejoin="round"/>
<path d="M1072.0 608.0C1076.3 613.3 1092.5 624.7 1098.0 640.0C1103.5 655.3 1103.7 676.7 1105.0 700.0C1106.3 723.3 1104.2 758.0 1106.0 780.0C1107.8 801.1 1104.7 815.3 1116.0 832.0C1127.3 848.7 1164.3 872.0 1174.0 880.0" fill="none" stroke="#3a3a3c" stroke-width="18" stroke-linecap="round" stroke-linejoin="round"/>
<path d="M1004.0 1000.0C1005.0 1013.3 1010.7 1053.3 1010.0 1080.0C1009.3 1106.7 995.0 1134.0 1000.0 1160.0C1005.0 1186.0 1033.3 1223.3 1040.0 1236.0" fill="none" stroke="#3a3a3c" stroke-width="17" stroke-linecap="round" stroke-linejoin="round"/>
<path d="" fill="none" stroke="#3a3a3c" stroke-width="10" stroke-linecap="round" stroke-linejoin="round"/>
<path d="" fill="none" stroke="#3a3a3c" stroke-width="10" stroke-linecap="round" stroke-linejoin="round"/>
</g>

<g class="an" transform="translate(665 530) scale(0.078125)">
<path d="M1872.0 600.0C1870.3 588.3 1859.5 575.6 1850.0 560.0C1838.0 540.3 1818.3 505.0 1800.0 482.0C1781.7 459.0 1760.0 440.3 1740.0 422.0C1720.0 403.7 1696.3 385.3 1680.0 372.0C1665.0 359.8 1650.3 355.7 1642.0 342.0C1633.7 328.3 1634.5 308.3 1630.0 290.0C1625.5 271.7 1623.3 249.3 1615.0 232.0C1606.7 214.7 1594.2 197.0 1580.0 186.0C1565.8 175.0 1546.7 168.5 1530.0 166.0C1513.3 163.5 1494.0 165.3 1480.0 171.0C1466.0 176.7 1453.5 186.8 1446.0 200.0C1438.5 213.2 1435.2 235.0 1435.0 250.0C1434.8 265.0 1450.8 285.0 1445.0 290.0C1439.2 295.0 1416.8 287.7 1400.0 280.0C1382.5 272.0 1360.0 255.0 1340.0 242.0C1320.0 229.0 1298.3 214.7 1280.0 202.0C1261.7 189.3 1250.0 176.2 1230.0 166.0C1210.0 155.8 1185.0 147.3 1160.0 141.0C1135.0 134.7 1106.7 130.2 1080.0 128.0C1053.3 125.8 1026.7 125.8 1000.0 128.0C973.3 130.2 943.3 135.5 920.0 141.0C896.7 146.5 880.0 151.8 860.0 161.0C840.0 170.2 820.0 181.8 800.0 196.0C780.0 210.2 760.0 225.0 740.0 246.0C720.0 267.0 696.7 297.7 680.0 322.0C663.3 346.3 650.8 368.7 640.0 392.0C629.2 415.3 621.7 437.0 615.0 462.0C608.3 487.0 604.2 515.3 600.0 542.0C595.8 568.7 593.3 598.7 590.0 622.0C586.7 645.3 585.0 664.8 580.0 682.0C575.0 699.2 556.7 714.5 560.0 725.0C563.3 735.5 583.3 740.5 600.0 745.0C616.7 749.5 643.3 751.2 660.0 752.0C676.0 752.8 684.3 746.9 700.0 750.0C716.7 753.3 743.3 766.0 760.0 772.0C775.9 777.7 783.2 783.9 800.0 786.0C818.3 788.3 845.0 785.2 870.0 786.0C895.0 786.8 921.7 788.7 950.0 791.0C978.3 793.3 1021.3 796.0 1040.0 800.0C1050.4 802.2 1057.2 805.5 1062.0 815.0C1067.0 825.0 1070.0 860.0 1070.0 860.0C1070.0 860.0 1088.0 858.0 1088.0 858.0C1088.0 858.0 1085.0 807.2 1092.0 800.0C1099.0 792.8 1130.0 815.0 1130.0 815.0C1130.0 815.0 1144.2 794.5 1150.0 792.0C1155.8 789.5 1165.0 800.0 1165.0 800.0C1165.0 800.0 1167.8 769.0 1182.0 760.0C1196.2 751.0 1225.3 750.0 1250.0 746.0C1274.7 742.0 1305.0 736.7 1330.0 736.0C1355.0 735.3 1383.3 737.0 1400.0 742.0C1414.7 746.4 1419.7 760.3 1430.0 766.0C1440.3 771.7 1462.0 776.0 1462.0 776.0C1462.0 776.0 1440.0 757.0 1445.0 752.0C1450.0 747.0 1492.0 746.0 1492.0 746.0C1492.0 746.0 1460.3 731.7 1462.0 726.0C1463.7 720.3 1502.0 712.0 1502.0 712.0C1502.0 712.0 1452.3 705.2 1452.0 700.0C1451.7 694.8 1482.0 685.0 1500.0 681.0C1518.0 677.0 1543.3 674.5 1560.0 676.0C1576.7 677.5 1585.0 686.7 1600.0 690.0C1615.0 693.3 1633.3 696.7 1650.0 696.0C1666.7 695.3 1681.7 691.8 1700.0 686.0C1718.3 680.2 1740.0 667.0 1760.0 661.0C1780.0 655.0 1803.3 655.2 1820.0 650.0C1836.7 644.8 1851.3 638.3 1860.0 630.0C1868.7 621.7 1873.7 611.7 1872.0 600.0Z"/>
<path d="M640.0 738.0C626.7 740.3 586.7 748.3 560.0 752.0C533.3 755.7 506.7 759.7 480.0 760.0C453.3 760.3 430.0 758.0 400.0 754.0C370.0 750.0 330.0 739.0 300.0 736.0C270.0 733.0 243.3 732.0 220.0 736.0C196.7 740.0 175.5 747.7 160.0 760.0C144.5 772.3 132.5 791.7 127.0 810.0C121.5 828.3 121.5 851.7 127.0 870.0C132.5 888.3 142.8 906.7 160.0 920.0C177.2 933.3 201.7 943.7 230.0 950.0C258.3 956.3 293.3 957.2 330.0 958.0C366.7 958.8 411.7 958.0 450.0 955.0C488.3 952.0 521.7 944.8 560.0 940.0C598.3 935.2 640.0 929.3 680.0 926.0C720.0 922.7 766.7 920.0 800.0 920.0C832.1 920.0 860.0 921.8 880.0 926.0C897.3 929.6 907.0 938.5 920.0 945.0C933.0 951.5 951.7 961.7 958.0 965.0" fill="none" stroke="#3a3a3c" stroke-width="34" stroke-linecap="round" stroke-linejoin="round"/>
<path d="M1860.0 622.0C1850.0 638.3 1820.8 689.0 1800.0 720.0C1779.2 751.0 1745.8 793.3 1735.0 808.0" fill="none" stroke="#3a3a3c" stroke-width="8" stroke-linecap="round" stroke-linejoin="round"/>
<path d="M1800.0 690.0C1800.8 701.7 1805.0 738.3 1805.0 760.0C1805.0 781.7 1800.8 810.0 1800.0 820.0" fill="none" stroke="#3a3a3c" stroke-width="8" stroke-linecap="round" stroke-linejoin="round"/>
<path d="M1830.0 680.0C1832.5 691.7 1841.7 726.7 1845.0 750.0C1848.3 773.3 1849.2 808.3 1850.0 820.0" fill="none" stroke="#3a3a3c" stroke-width="8" stroke-linecap="round" stroke-linejoin="round"/>
<path d="M1855.0 660.0C1857.5 666.7 1866.5 686.7 1870.0 700.0C1873.5 713.3 1875.0 733.3 1876.0 740.0" fill="none" stroke="#3a3a3c" stroke-width="8" stroke-linecap="round" stroke-linejoin="round"/>
<path d="M1862.0 580.0C1868.3 578.3 1889.5 574.0 1900.0 570.0C1910.5 566.0 1920.8 558.3 1925.0 556.0" fill="none" stroke="#3a3a3c" stroke-width="8" stroke-linecap="round" stroke-linejoin="round"/>
<path d="M1860.0 548.0C1863.0 543.3 1874.0 529.7 1878.0 520.0C1882.0 510.3 1883.0 495.0 1884.0 490.0" fill="none" stroke="#3a3a3c" stroke-width="8" stroke-linecap="round" stroke-linejoin="round"/>
</g>

<g class="an" transform="translate(840 660) scale(0.091376)">
<path d="M328.0 603.0C328.0 603.0 380.0 600.0 380.0 600.0C380.0 600.0 391.3 589.9 400.0 585.0C410.0 579.3 425.0 570.5 440.0 566.0C455.0 561.5 473.3 557.7 490.0 558.0C506.7 558.3 523.3 562.2 540.0 568.0C556.7 573.8 573.3 581.7 590.0 593.0C606.7 604.3 623.3 620.5 640.0 636.0C656.7 651.5 674.2 672.7 690.0 686.0C705.8 699.3 720.8 713.7 735.0 716.0C749.2 718.3 765.0 708.5 775.0 700.0C785.0 691.5 790.8 680.0 795.0 665.0C799.2 650.0 800.8 629.2 800.0 610.0C799.2 590.8 795.0 568.3 790.0 550.0C785.0 531.7 771.7 516.7 770.0 500.0C768.3 483.3 773.3 468.3 780.0 450.0C786.7 431.7 796.7 411.7 810.0 390.0C823.3 368.3 841.7 343.3 860.0 320.0C878.3 296.7 898.3 272.3 920.0 250.0C941.7 227.7 966.7 204.2 990.0 186.0C1013.3 167.8 1037.0 152.3 1060.0 141.0C1083.0 129.7 1128.0 118.0 1128.0 118.0C1128.0 118.0 1075.0 200.0 1075.0 200.0C1075.0 200.0 1165.0 175.0 1165.0 175.0C1165.0 175.0 1110.0 245.0 1110.0 245.0C1110.0 245.0 1195.0 232.0 1195.0 232.0C1195.0 232.0 1135.0 300.0 1135.0 300.0C1135.0 300.0 1222.0 290.0 1222.0 290.0C1222.0 290.0 1155.0 360.0 1155.0 360.0C1155.0 360.0 1235.0 352.0 1235.0 352.0C1235.0 352.0 1170.0 420.0 1170.0 420.0C1170.0 420.0 1240.0 418.0 1240.0 418.0C1240.0 418.0 1175.0 480.0 1175.0 480.0C1175.0 480.0 1243.0 485.0 1243.0 485.0C1243.0 485.0 1180.0 540.0 1180.0 540.0C1180.0 540.0 1245.0 545.0 1245.0 545.0C1245.0 545.0 1185.0 595.0 1185.0 595.0C1185.0 595.0 1240.0 605.0 1240.0 605.0C1240.0 605.0 1195.0 650.0 1195.0 650.0C1195.0 650.0 1232.0 672.0 1232.0 672.0C1232.0 672.0 1219.3 702.0 1220.0 720.0C1220.7 738.0 1233.3 760.0 1236.0 780.0C1238.7 800.0 1238.7 822.3 1236.0 840.0C1233.3 857.7 1226.0 874.3 1220.0 886.0C1214.3 897.1 1200.0 910.0 1200.0 910.0C1200.0 910.0 1219.7 934.7 1230.0 945.0C1240.3 955.3 1245.8 967.6 1262.0 972.0C1278.7 976.5 1303.7 971.0 1330.0 972.0C1356.3 973.0 1393.3 975.7 1420.0 978.0C1446.7 980.3 1471.7 982.2 1490.0 986.0C1506.7 989.5 1519.2 992.0 1530.0 1001.0C1540.8 1010.0 1549.8 1026.8 1555.0 1040.0C1560.2 1053.2 1561.8 1065.0 1561.0 1080.0C1560.2 1095.0 1556.8 1113.3 1550.0 1130.0C1543.2 1146.7 1531.7 1163.3 1520.0 1180.0C1508.3 1196.7 1495.0 1213.3 1480.0 1230.0C1465.0 1246.7 1448.3 1265.0 1430.0 1280.0C1411.7 1295.0 1390.0 1308.0 1370.0 1320.0C1350.0 1332.0 1325.0 1347.8 1310.0 1352.0C1298.1 1355.3 1289.9 1352.3 1280.0 1345.0C1268.3 1336.3 1253.3 1315.8 1240.0 1300.0C1226.7 1284.2 1213.3 1266.7 1200.0 1250.0C1186.7 1233.3 1170.0 1211.7 1160.0 1200.0C1152.6 1191.4 1140.0 1180.0 1140.0 1180.0C1140.0 1180.0 1100.0 1179.0 1080.0 1180.0C1060.0 1181.0 1020.0 1186.0 1020.0 1186.0C1020.0 1186.0 993.3 1209.3 980.0 1220.0C966.7 1230.7 956.7 1240.0 940.0 1250.0C923.3 1260.0 903.3 1270.0 880.0 1280.0C856.7 1290.0 815.8 1300.0 800.0 1310.0C788.7 1317.2 785.0 1340.0 785.0 1340.0C785.0 1340.0 735.0 1325.0 735.0 1325.0C735.0 1325.0 720.0 1395.0 720.0 1395.0C720.0 1395.0 660.0 1360.0 660.0 1360.0C660.0 1360.0 645.0 1440.0 645.0 1440.0C645.0 1440.0 590.0 1390.0 590.0 1390.0C590.0 1390.0 575.0 1485.0 575.0 1485.0C575.0 1485.0 525.0 1420.0 525.0 1420.0C525.0 1420.0 495.0 1530.0 495.0 1530.0C495.0 1530.0 460.0 1455.0 460.0 1455.0C460.0 1455.0 415.0 1568.0 415.0 1568.0C415.0 1568.0 390.0 1490.0 390.0 1490.0C390.0 1490.0 335.0 1608.0 335.0 1608.0C335.0 1608.0 320.0 1520.0 320.0 1520.0C320.0 1520.0 258.0 1625.0 258.0 1625.0C258.0 1625.0 245.0 1530.0 245.0 1530.0C245.0 1530.0 178.0 1640.0 178.0 1640.0C178.0 1640.0 170.0 1520.0 170.0 1520.0C170.0 1520.0 95.0 1640.0 95.0 1640.0C95.0 1640.0 87.8 1604.0 90.0 1580.0C92.5 1553.3 101.7 1513.3 110.0 1480.0C118.3 1446.7 126.7 1416.7 140.0 1380.0C153.3 1343.3 171.7 1298.3 190.0 1260.0C208.3 1221.7 230.0 1181.7 250.0 1150.0C270.0 1118.3 290.0 1093.3 310.0 1070.0C330.0 1046.7 351.7 1024.8 370.0 1010.0C388.0 995.5 400.0 989.0 420.0 981.0C440.0 973.0 490.0 962.0 490.0 962.0C490.0 962.0 472.5 935.3 465.0 920.0C457.5 904.7 450.0 890.0 445.0 870.0C440.0 850.0 439.2 821.7 435.0 800.0C430.8 778.3 427.5 761.7 420.0 740.0C412.5 718.3 400.0 688.3 390.0 670.0C380.4 652.4 370.3 641.2 360.0 630.0C349.7 618.8 328.0 603.0 328.0 603.0Z"/>
</g>

<g class="an" transform="translate(1035 700) scale(0.068532)">
<path d="M1000.0 330.0C1018.3 329.8 1043.3 338.3 1060.0 345.0C1076.7 351.7 1083.3 365.5 1100.0 370.0C1116.7 374.5 1141.7 369.3 1160.0 372.0C1178.3 374.7 1195.0 378.0 1210.0 386.0C1225.0 394.0 1239.2 406.0 1250.0 420.0C1260.8 434.0 1269.8 451.7 1275.0 470.0C1280.2 488.3 1282.5 510.0 1281.0 530.0C1279.5 550.0 1272.8 570.0 1266.0 590.0C1259.2 610.0 1251.0 630.0 1240.0 650.0C1229.0 670.0 1213.3 693.0 1200.0 710.0C1186.7 727.0 1170.3 738.7 1160.0 752.0C1149.7 765.3 1143.0 777.0 1138.0 790.0C1133.0 803.0 1128.1 813.8 1130.0 830.0C1132.0 846.7 1141.7 875.0 1150.0 890.0C1158.2 904.8 1180.0 920.0 1180.0 920.0C1180.0 920.0 1201.7 911.7 1210.0 900.0C1218.3 888.3 1225.7 866.7 1230.0 850.0C1234.3 833.3 1238.5 814.2 1236.0 800.0C1233.5 785.8 1216.8 774.2 1215.0 765.0C1213.2 756.2 1219.2 744.2 1225.0 745.0C1230.8 745.8 1243.4 757.5 1250.0 770.0C1257.5 784.2 1261.7 825.0 1270.0 830.0C1278.3 835.0 1300.0 800.0 1300.0 800.0C1300.0 800.0 1329.2 746.7 1340.0 720.0C1350.8 693.3 1358.3 658.0 1365.0 640.0C1369.4 628.1 1373.3 614.5 1380.0 612.0C1386.7 609.5 1401.8 614.2 1405.0 625.0C1408.3 636.3 1405.2 658.5 1400.0 680.0C1394.2 704.2 1378.3 743.3 1370.0 770.0C1361.7 796.7 1350.0 840.0 1350.0 840.0C1350.0 840.0 1381.7 844.0 1400.0 840.0C1418.3 836.0 1440.8 822.7 1460.0 816.0C1479.2 809.3 1503.3 799.3 1515.0 800.0C1525.0 800.6 1532.5 811.7 1530.0 820.0C1527.5 828.3 1514.8 841.8 1500.0 850.0C1485.0 858.3 1460.0 861.7 1440.0 870.0C1420.0 878.3 1396.7 886.7 1380.0 900.0C1363.3 913.3 1353.3 931.7 1340.0 950.0C1326.7 968.3 1313.3 995.0 1300.0 1010.0C1286.7 1024.9 1276.7 1030.0 1260.0 1040.0C1243.3 1050.0 1220.0 1066.7 1200.0 1070.0C1180.0 1073.3 1140.0 1060.0 1140.0 1060.0C1140.0 1060.0 1126.6 1083.4 1120.0 1100.0C1113.3 1116.7 1107.5 1138.3 1100.0 1160.0C1092.5 1181.7 1080.0 1212.3 1075.0 1230.0C1071.0 1244.0 1070.0 1266.0 1070.0 1266.0C1070.0 1266.0 1105.0 1271.8 1120.0 1270.0C1135.0 1268.2 1150.0 1261.7 1160.0 1255.0C1170.0 1248.3 1176.3 1242.2 1180.0 1230.0C1184.3 1215.8 1182.7 1184.2 1186.0 1170.0C1188.6 1158.8 1195.2 1145.8 1200.0 1145.0C1204.8 1144.2 1213.2 1155.2 1215.0 1165.0C1217.7 1179.2 1210.2 1217.5 1216.0 1230.0C1221.8 1242.5 1250.0 1240.0 1250.0 1240.0C1250.0 1240.0 1276.7 1208.3 1290.0 1190.0C1303.3 1171.7 1319.7 1143.7 1330.0 1130.0C1337.5 1120.1 1345.3 1108.8 1352.0 1108.0C1358.7 1107.2 1370.3 1115.1 1370.0 1125.0C1369.7 1137.0 1360.8 1159.2 1350.0 1180.0C1338.3 1202.5 1315.0 1236.7 1300.0 1260.0C1285.0 1283.3 1269.2 1304.2 1260.0 1320.0C1252.4 1333.2 1245.0 1355.0 1245.0 1355.0C1245.0 1355.0 1276.7 1353.3 1290.0 1350.0C1303.3 1346.7 1317.3 1334.2 1325.0 1335.0C1332.7 1335.8 1340.1 1346.8 1336.0 1355.0C1331.8 1363.3 1314.3 1377.5 1300.0 1385.0C1285.7 1392.5 1266.7 1394.2 1250.0 1400.0C1233.3 1405.8 1218.3 1411.7 1200.0 1420.0C1181.7 1428.3 1160.0 1438.3 1140.0 1450.0C1120.0 1461.7 1103.3 1476.7 1080.0 1490.0C1056.7 1503.3 1030.0 1516.7 1000.0 1530.0C970.0 1543.3 933.3 1558.3 900.0 1570.0C866.7 1581.7 830.0 1592.3 800.0 1600.0C770.0 1607.7 740.0 1616.0 720.0 1616.0C702.8 1616.0 691.7 1609.3 680.0 1600.0C668.3 1590.7 663.3 1569.0 650.0 1560.0C636.7 1551.0 616.7 1551.0 600.0 1546.0C583.3 1541.0 565.0 1539.3 550.0 1530.0C535.0 1520.7 510.0 1490.0 510.0 1490.0C510.0 1490.0 491.7 1506.3 480.0 1510.0C468.3 1513.7 453.3 1517.0 440.0 1512.0C426.7 1507.0 411.7 1495.3 400.0 1480.0C388.3 1464.7 380.0 1443.3 370.0 1420.0C360.0 1396.7 351.7 1368.3 340.0 1340.0C328.3 1311.7 312.5 1280.0 300.0 1250.0C287.5 1220.0 274.2 1188.3 265.0 1160.0C255.8 1131.7 249.2 1106.7 245.0 1080.0C240.8 1053.3 242.5 1020.0 240.0 1000.0C238.0 983.6 236.7 975.0 230.0 960.0C223.3 945.0 208.8 925.7 200.0 910.0C191.2 894.3 177.8 875.2 177.0 866.0C176.2 857.6 187.9 850.4 195.0 855.0C203.8 860.7 220.0 889.2 230.0 900.0C238.7 909.4 255.0 920.0 255.0 920.0C255.0 920.0 279.1 913.2 285.0 900.0C291.7 885.0 291.7 856.7 295.0 830.0C298.3 803.3 301.7 762.5 305.0 740.0C307.7 721.8 309.2 702.5 315.0 695.0C320.8 687.5 335.8 685.9 340.0 695.0C345.0 705.8 345.0 735.8 345.0 760.0C345.0 784.2 339.2 816.7 340.0 840.0C340.8 863.3 350.0 900.0 350.0 900.0C350.0 900.0 375.0 898.3 385.0 890.0C395.0 881.7 402.5 860.8 410.0 850.0C417.3 839.5 423.3 827.5 430.0 825.0C436.7 822.5 448.3 827.5 450.0 835.0C451.7 842.5 445.5 856.5 440.0 870.0C434.2 884.2 421.7 905.0 415.0 920.0C408.3 935.0 400.0 960.0 400.0 960.0C400.0 960.0 412.3 978.3 420.0 990.0C427.7 1001.7 446.0 1030.0 446.0 1030.0C446.0 1030.0 449.3 981.7 455.0 960.0C460.7 938.3 470.8 920.0 480.0 900.0C489.2 880.0 498.3 861.7 510.0 840.0C521.7 818.3 536.7 790.0 550.0 770.0C563.3 750.0 580.0 731.7 590.0 720.0C597.4 711.4 610.0 700.0 610.0 700.0C610.0 700.0 575.0 696.7 560.0 690.0C545.0 683.3 534.9 673.3 520.0 660.0C505.0 646.7 485.0 626.7 470.0 610.0C455.0 593.3 441.7 578.3 430.0 560.0C418.3 541.7 407.5 521.7 400.0 500.0C392.5 478.3 388.3 450.0 385.0 430.0C381.7 410.2 385.8 396.7 380.0 380.0C374.2 363.3 360.0 346.7 350.0 330.0C340.0 313.3 326.7 293.3 320.0 280.0C314.3 268.7 307.5 256.7 310.0 250.0C312.5 243.3 326.0 234.0 335.0 240.0C345.0 246.7 357.5 273.3 370.0 290.0C382.5 306.7 398.3 330.0 410.0 340.0C419.6 348.2 440.0 350.0 440.0 350.0C440.0 350.0 438.3 305.0 435.0 280.0C431.7 255.0 423.3 219.2 420.0 200.0C417.6 186.1 411.7 171.7 415.0 165.0C418.3 158.3 433.3 152.5 440.0 160.0C446.7 167.5 450.3 189.7 455.0 210.0C460.0 231.7 465.0 265.0 470.0 290.0C475.0 315.0 478.3 346.7 485.0 360.0C489.8 369.6 510.0 370.0 510.0 370.0C510.0 370.0 509.2 332.5 510.0 320.0C510.7 309.8 510.8 298.3 515.0 295.0C519.2 291.7 532.0 292.3 535.0 300.0C539.2 310.8 537.5 343.3 540.0 360.0C542.4 376.3 549.2 385.0 550.0 400.0C550.8 415.0 545.7 435.0 545.0 450.0C544.3 465.0 541.8 476.7 546.0 490.0C550.2 503.3 561.0 515.0 570.0 530.0C579.0 545.0 588.3 568.3 600.0 580.0C611.7 591.7 626.7 598.3 640.0 600.0C653.3 601.7 666.7 598.3 680.0 590.0C693.3 581.7 703.3 563.3 720.0 550.0C736.7 536.7 760.0 523.3 780.0 510.0C800.0 496.7 821.7 483.3 840.0 470.0C858.3 456.7 876.7 445.0 890.0 430.0C903.3 415.0 910.0 394.0 920.0 380.0C930.0 366.0 936.7 354.3 950.0 346.0C963.3 337.7 981.7 330.2 1000.0 330.0Z"/>
</g>

<g class="an" transform="translate(1095 815) scale(0.078125)">
<path d="M165.0 705.0C165.0 705.0 200.0 690.0 200.0 690.0C200.0 690.0 215.0 700.0 215.0 700.0C215.0 700.0 290.0 678.0 290.0 678.0C290.0 678.0 300.0 690.0 300.0 690.0C300.0 690.0 360.0 682.0 360.0 682.0C360.0 682.0 375.0 692.0 375.0 692.0C375.0 692.0 440.0 665.0 440.0 665.0C440.0 665.0 455.0 675.0 455.0 675.0C455.0 675.0 540.0 630.0 540.0 630.0C540.0 630.0 555.0 642.0 555.0 642.0C555.0 642.0 640.0 600.0 640.0 600.0C640.0 600.0 655.0 612.0 655.0 612.0C655.0 612.0 740.0 565.0 740.0 565.0C740.0 565.0 755.0 578.0 755.0 578.0C755.0 578.0 850.0 515.0 850.0 515.0C850.0 515.0 862.0 528.0 862.0 528.0C862.0 528.0 960.0 485.0 960.0 485.0C960.0 485.0 972.0 497.0 972.0 497.0C972.0 497.0 1080.0 435.0 1080.0 435.0C1080.0 435.0 1090.0 448.0 1090.0 448.0C1090.0 448.0 1180.0 395.0 1180.0 395.0C1180.0 395.0 1190.0 405.0 1190.0 405.0C1190.0 405.0 1270.0 350.0 1270.0 350.0C1270.0 350.0 1282.0 360.0 1282.0 360.0C1282.0 360.0 1350.0 335.0 1350.0 335.0C1350.0 335.0 1362.0 343.0 1362.0 343.0C1362.0 343.0 1430.0 305.0 1430.0 305.0C1430.0 305.0 1445.0 312.0 1445.0 312.0C1445.0 312.0 1580.0 265.0 1580.0 265.0C1580.0 265.0 1590.0 272.0 1590.0 272.0C1590.0 272.0 1656.7 251.2 1700.0 245.0C1743.3 238.8 1813.3 237.2 1850.0 235.0C1878.0 233.3 1892.2 235.3 1920.0 232.0C1948.3 228.7 1979.8 220.2 2020.0 215.0C2061.7 209.7 2120.0 202.5 2170.0 200.0C2220.0 197.5 2270.0 199.2 2320.0 200.0C2370.0 200.8 2423.3 202.5 2470.0 205.0C2516.7 207.5 2558.3 210.8 2600.0 215.0C2641.7 219.2 2683.3 224.2 2720.0 230.0C2756.7 235.8 2786.7 243.3 2820.0 250.0C2853.3 256.7 2893.3 264.2 2920.0 270.0C2944.2 275.3 2961.7 280.8 2980.0 285.0C2998.3 289.2 3013.3 296.7 3030.0 295.0C3046.7 293.3 3060.0 282.9 3080.0 275.0C3103.3 265.8 3138.3 250.0 3170.0 240.0C3201.7 230.0 3245.0 223.3 3270.0 215.0C3291.2 207.9 3305.0 195.8 3320.0 190.0C3335.0 184.2 3346.7 179.2 3360.0 180.0C3373.3 180.8 3388.3 187.5 3400.0 195.0C3411.7 202.5 3430.0 225.0 3430.0 225.0C3430.0 225.0 3460.0 232.1 3480.0 230.0C3503.3 227.5 3540.0 219.2 3570.0 210.0C3600.0 200.8 3635.0 185.8 3660.0 175.0C3684.6 164.3 3701.7 151.7 3720.0 145.0C3738.3 138.3 3754.2 134.2 3770.0 135.0C3785.8 135.8 3803.7 141.7 3815.0 150.0C3826.3 158.3 3836.3 171.7 3838.0 185.0C3839.7 198.3 3831.3 216.7 3825.0 230.0C3818.7 243.3 3805.8 253.3 3800.0 265.0C3794.2 276.7 3790.0 300.0 3790.0 300.0C3790.0 300.0 3765.0 250.0 3765.0 250.0C3765.0 250.0 3732.5 248.0 3720.0 250.0C3707.5 252.0 3690.0 262.0 3690.0 262.0C3690.0 262.0 3660.0 340.0 3660.0 340.0C3660.0 340.0 3635.0 300.0 3635.0 300.0C3635.0 300.0 3600.0 340.0 3600.0 340.0C3600.0 340.0 3570.0 302.0 3570.0 302.0C3570.0 302.0 3540.0 370.0 3540.0 370.0C3540.0 370.0 3510.0 350.0 3510.0 350.0C3510.0 350.0 3480.0 385.0 3480.0 385.0C3480.0 385.0 3450.0 378.0 3450.0 378.0C3450.0 378.0 3430.0 395.0 3430.0 395.0C3430.0 395.0 3405.0 384.2 3390.0 385.0C3375.0 385.8 3353.3 390.8 3340.0 400.0C3326.7 409.2 3311.7 428.3 3310.0 440.0C3308.3 451.7 3321.7 463.0 3330.0 470.0C3338.3 477.0 3348.3 480.7 3360.0 482.0C3371.7 483.3 3400.0 478.0 3400.0 478.0C3400.0 478.0 3440.0 490.0 3440.0 490.0C3440.0 490.0 3480.0 470.0 3480.0 470.0C3480.0 470.0 3520.0 475.0 3520.0 475.0C3520.0 475.0 3550.0 455.0 3550.0 455.0C3550.0 455.0 3580.0 465.0 3580.0 465.0C3580.0 465.0 3610.0 440.0 3610.0 440.0C3610.0 440.0 3640.0 455.0 3640.0 455.0C3640.0 455.0 3670.0 425.0 3670.0 425.0C3670.0 425.0 3700.0 440.0 3700.0 440.0C3700.0 440.0 3730.0 405.0 3730.0 405.0C3730.0 405.0 3750.0 440.0 3750.0 440.0C3750.0 440.0 3770.0 385.0 3770.0 385.0C3770.0 385.0 3782.5 418.3 3790.0 430.0C3797.5 441.7 3815.0 446.7 3815.0 455.0C3815.0 463.3 3802.2 472.9 3790.0 480.0C3774.2 489.2 3748.3 499.2 3720.0 510.0C3691.7 520.8 3653.3 535.0 3620.0 545.0C3586.7 555.0 3553.3 562.5 3520.0 570.0C3486.7 577.5 3453.3 582.5 3420.0 590.0C3386.7 597.5 3353.3 608.3 3320.0 615.0C3286.7 621.7 3255.8 625.0 3220.0 630.0C3184.2 635.0 3105.0 645.0 3105.0 645.0C3105.0 645.0 3145.8 667.5 3170.0 680.0C3194.2 692.5 3225.0 708.3 3250.0 720.0C3275.0 731.7 3301.7 741.7 3320.0 750.0C3336.3 757.4 3348.3 761.7 3360.0 770.0C3371.7 778.3 3382.5 791.7 3390.0 800.0C3396.7 807.4 3405.0 820.0 3405.0 820.0C3405.0 820.0 3374.2 805.8 3370.0 810.0C3365.8 814.2 3380.0 845.0 3380.0 845.0C3380.0 845.0 3353.3 819.2 3340.0 810.0C3326.7 800.8 3311.7 791.7 3300.0 790.0C3288.3 788.3 3279.2 791.7 3270.0 800.0C3260.8 808.3 3245.0 840.0 3245.0 840.0C3245.0 840.0 3247.5 809.2 3240.0 800.0C3232.5 790.8 3216.7 788.5 3200.0 785.0C3180.0 780.8 3145.0 777.5 3120.0 775.0C3095.0 772.5 3068.3 772.5 3050.0 770.0C3033.7 767.8 3023.3 768.3 3010.0 760.0C2996.7 751.7 2981.7 733.3 2970.0 720.0C2958.3 706.7 2950.0 691.7 2940.0 680.0C2930.0 668.3 2910.0 650.0 2910.0 650.0C2910.0 650.0 2851.7 660.0 2820.0 665.0C2788.3 670.0 2753.3 676.2 2720.0 680.0C2686.7 683.8 2653.3 686.7 2620.0 688.0C2586.7 689.3 2553.3 689.3 2520.0 688.0C2486.7 686.7 2453.3 683.3 2420.0 680.0C2386.7 676.7 2353.3 672.2 2320.0 668.0C2286.7 663.8 2253.3 659.7 2220.0 655.0C2186.7 650.3 2150.0 644.2 2120.0 640.0C2090.0 635.8 2040.0 630.0 2040.0 630.0C2040.0 630.0 2005.0 667.5 1990.0 680.0C1975.5 692.1 1950.0 705.0 1950.0 705.0C1950.0 705.0 2010.0 740.0 2010.0 740.0C2010.0 740.0 1980.0 748.0 1980.0 748.0C1980.0 748.0 2005.0 780.0 2005.0 780.0C2005.0 780.0 1965.0 775.0 1965.0 775.0C1965.0 775.0 1950.0 822.0 1950.0 822.0C1950.0 822.0 1933.8 805.7 1920.0 800.0C1905.0 793.8 1880.0 790.0 1860.0 785.0C1840.0 780.0 1818.3 773.3 1800.0 770.0C1781.7 766.7 1762.5 769.2 1750.0 765.0C1737.9 761.0 1730.8 755.8 1725.0 745.0C1719.2 734.2 1712.5 715.8 1715.0 700.0C1717.5 684.2 1731.7 667.2 1740.0 650.0C1748.3 632.8 1765.0 597.0 1765.0 597.0C1765.0 597.0 1694.2 597.5 1650.0 598.0C1605.8 598.5 1550.0 597.2 1500.0 600.0C1450.0 602.8 1400.0 607.5 1350.0 615.0C1300.0 622.5 1250.0 633.3 1200.0 645.0C1150.0 656.7 1100.0 671.7 1050.0 685.0C1000.0 698.3 950.0 712.2 900.0 725.0C850.0 737.8 800.0 753.2 750.0 762.0C700.0 770.8 650.0 775.0 600.0 778.0C550.0 781.0 500.0 780.5 450.0 780.0C400.0 779.5 347.5 777.0 300.0 775.0C252.5 773.0 165.0 768.0 165.0 768.0C165.0 768.0 165.0 705.0 165.0 705.0Z"/>
<path d="M165 705 L165 768 Q90 772 30 708 Q90 735 165 705Z" fill="#c5cce0" fill-opacity="0.8"/>
</g>

<g class="an" transform="translate(1380 830) scale(0.074257)">
<path d="M1790.0 100.0C1801.7 97.5 1805.8 115.0 1810.0 125.0C1814.2 135.0 1816.7 147.5 1815.0 160.0C1813.3 172.5 1805.0 186.7 1800.0 200.0C1795.0 213.3 1788.3 226.7 1785.0 240.0C1781.7 253.3 1777.5 270.0 1780.0 280.0C1782.5 290.0 1790.0 297.5 1800.0 300.0C1810.0 302.5 1828.3 299.2 1840.0 295.0C1851.7 290.8 1860.8 275.8 1870.0 275.0C1879.2 274.2 1892.5 282.5 1895.0 290.0C1897.5 297.5 1892.5 310.0 1885.0 320.0C1877.5 330.0 1862.5 339.2 1850.0 350.0C1837.5 360.8 1821.7 373.3 1810.0 385.0C1798.3 396.7 1788.3 407.5 1780.0 420.0C1771.7 432.5 1765.8 443.3 1760.0 460.0C1754.2 476.7 1748.3 496.7 1745.0 520.0C1741.7 543.3 1743.3 573.3 1740.0 600.0C1736.7 626.7 1731.7 655.0 1725.0 680.0C1718.3 705.0 1709.2 730.0 1700.0 750.0C1690.8 770.0 1680.0 783.3 1670.0 800.0C1660.0 816.7 1648.3 833.3 1640.0 850.0C1631.7 866.7 1630.0 883.3 1620.0 900.0C1610.0 916.7 1591.7 935.0 1580.0 950.0C1568.3 965.0 1558.3 975.0 1550.0 990.0C1541.7 1005.0 1534.2 1021.7 1530.0 1040.0C1525.8 1058.3 1525.0 1075.9 1525.0 1100.0C1525.0 1126.7 1527.5 1166.7 1530.0 1200.0C1532.5 1233.3 1536.7 1266.7 1540.0 1300.0C1543.3 1333.3 1545.0 1366.7 1550.0 1400.0C1555.0 1433.3 1563.3 1471.7 1570.0 1500.0C1576.7 1528.3 1581.7 1553.3 1590.0 1570.0C1597.6 1585.2 1606.7 1590.8 1620.0 1600.0C1633.3 1609.2 1659.2 1615.0 1670.0 1625.0C1680.8 1635.0 1686.7 1652.5 1685.0 1660.0C1683.3 1667.5 1670.7 1668.5 1660.0 1670.0C1645.8 1672.0 1617.5 1672.8 1600.0 1672.0C1582.5 1671.2 1566.7 1673.7 1555.0 1665.0C1543.3 1656.3 1538.3 1638.8 1530.0 1620.0C1520.8 1599.2 1510.0 1565.0 1500.0 1540.0C1490.0 1515.0 1478.3 1493.3 1470.0 1470.0C1461.7 1446.7 1456.7 1423.3 1450.0 1400.0C1443.3 1376.7 1435.0 1346.7 1430.0 1330.0C1426.4 1317.9 1420.0 1300.0 1420.0 1300.0C1420.0 1300.0 1404.2 1333.3 1400.0 1350.0C1395.8 1366.7 1391.7 1381.7 1395.0 1400.0C1398.3 1418.3 1412.5 1440.0 1420.0 1460.0C1427.5 1480.0 1430.8 1505.8 1440.0 1520.0C1449.2 1534.2 1466.7 1535.8 1475.0 1545.0C1483.3 1554.2 1490.8 1565.8 1490.0 1575.0C1489.2 1584.2 1481.5 1594.3 1470.0 1600.0C1458.3 1605.8 1435.0 1609.2 1420.0 1610.0C1405.0 1610.8 1391.7 1613.3 1380.0 1605.0C1368.3 1596.7 1359.4 1579.5 1350.0 1560.0C1340.0 1539.2 1330.0 1505.0 1320.0 1480.0C1310.0 1455.0 1295.8 1431.7 1290.0 1410.0C1284.2 1388.3 1283.5 1374.0 1285.0 1350.0C1286.7 1323.3 1295.8 1283.3 1300.0 1250.0C1304.2 1216.7 1306.7 1181.7 1310.0 1150.0C1313.3 1118.3 1317.5 1081.7 1320.0 1060.0C1321.8 1044.0 1325.0 1020.0 1325.0 1020.0C1325.0 1020.0 1274.2 1021.7 1250.0 1020.0C1225.8 1018.3 1205.0 1015.0 1180.0 1010.0C1155.0 1005.0 1126.7 996.7 1100.0 990.0C1073.3 983.3 1045.0 977.5 1020.0 970.0C995.0 962.5 970.0 950.8 950.0 945.0C930.4 939.3 913.3 935.0 900.0 935.0C887.4 935.0 879.3 936.5 870.0 945.0C860.0 954.2 851.2 971.5 840.0 990.0C828.3 1009.2 813.3 1038.3 800.0 1060.0C786.7 1081.7 773.3 1103.3 760.0 1120.0C746.7 1136.7 735.0 1146.7 720.0 1160.0C705.0 1173.3 690.0 1186.7 670.0 1200.0C650.0 1213.3 621.7 1226.7 600.0 1240.0C578.3 1253.3 556.7 1266.7 540.0 1280.0C523.3 1293.3 508.3 1303.3 500.0 1320.0C491.7 1336.7 491.7 1360.0 490.0 1380.0C488.3 1400.0 486.7 1426.7 490.0 1440.0C492.7 1451.0 501.7 1454.2 510.0 1460.0C518.3 1465.8 533.3 1468.3 540.0 1475.0C546.7 1481.7 551.7 1491.7 550.0 1500.0C548.3 1508.3 541.5 1519.3 530.0 1525.0C518.3 1530.8 495.0 1534.2 480.0 1535.0C465.0 1535.8 450.0 1536.7 440.0 1530.0C430.0 1523.3 420.0 1495.0 420.0 1495.0C420.0 1495.0 404.4 1493.0 400.0 1500.0C394.2 1509.2 387.5 1535.0 385.0 1550.0C382.5 1565.0 382.5 1580.0 385.0 1590.0C387.4 1599.7 390.9 1605.9 400.0 1610.0C409.2 1614.2 430.0 1610.0 440.0 1615.0C450.0 1620.0 458.3 1631.7 460.0 1640.0C461.7 1648.3 459.0 1659.0 450.0 1665.0C440.0 1671.7 416.7 1677.5 400.0 1680.0C383.3 1682.5 362.5 1685.0 350.0 1680.0C337.5 1675.0 331.7 1663.3 325.0 1650.0C318.3 1636.7 314.2 1614.2 310.0 1600.0C305.9 1586.0 298.8 1579.5 300.0 1565.0C301.7 1545.0 313.3 1507.5 320.0 1480.0C326.7 1452.5 334.2 1425.0 340.0 1400.0C345.8 1375.0 350.0 1348.3 355.0 1330.0C359.5 1313.5 370.0 1290.0 370.0 1290.0C370.0 1290.0 343.3 1325.8 330.0 1340.0C316.7 1354.2 301.7 1365.8 290.0 1375.0C278.7 1383.9 260.0 1395.0 260.0 1395.0C260.0 1395.0 250.0 1375.0 250.0 1375.0C250.0 1375.0 215.0 1365.0 215.0 1365.0C215.0 1365.0 180.0 1370.0 180.0 1370.0C180.0 1370.0 195.0 1345.0 195.0 1345.0C195.0 1345.0 140.0 1345.0 140.0 1345.0C140.0 1345.0 80.0 1338.0 80.0 1338.0C80.0 1338.0 130.0 1320.0 130.0 1320.0C130.0 1320.0 160.0 1290.0 160.0 1290.0C160.0 1290.0 150.0 1285.0 150.0 1285.0C150.0 1285.0 200.0 1240.0 200.0 1240.0C200.0 1240.0 231.7 1225.0 250.0 1215.0C268.3 1205.0 291.7 1192.5 310.0 1180.0C328.3 1167.5 349.2 1153.3 360.0 1140.0C370.8 1126.7 373.3 1110.0 375.0 1100.0C376.4 1091.9 370.0 1080.0 370.0 1080.0C370.0 1080.0 384.2 1056.7 390.0 1040.0C395.8 1023.3 400.0 1000.0 405.0 980.0C410.0 960.0 415.0 940.0 420.0 920.0C425.0 900.0 430.0 880.0 435.0 860.0C440.0 840.0 445.0 816.7 450.0 800.0C454.9 783.6 458.3 771.7 465.0 760.0C471.7 748.3 480.8 739.2 490.0 730.0C499.2 720.8 506.0 712.0 520.0 705.0C535.0 697.5 560.0 692.5 580.0 685.0C600.0 677.5 620.0 668.3 640.0 660.0C660.0 651.7 676.7 643.3 700.0 635.0C723.3 626.7 753.3 617.5 780.0 610.0C806.7 602.5 831.7 596.3 860.0 590.0C888.3 583.7 920.0 577.3 950.0 572.0C980.0 566.7 1011.7 561.7 1040.0 558.0C1068.3 554.3 1093.3 552.2 1120.0 550.0C1146.7 547.8 1173.3 545.8 1200.0 545.0C1226.7 544.2 1256.7 545.8 1280.0 545.0C1303.3 544.2 1325.8 541.7 1340.0 540.0C1350.1 538.8 1365.0 535.0 1365.0 535.0C1365.0 535.0 1360.0 515.0 1360.0 515.0C1360.0 515.0 1375.0 524.2 1385.0 525.0C1395.0 525.8 1410.0 525.8 1420.0 520.0C1430.0 514.2 1437.5 500.0 1445.0 490.0C1452.5 480.0 1465.0 460.0 1465.0 460.0C1465.0 460.0 1450.0 450.8 1440.0 445.0C1430.0 439.2 1405.0 425.0 1405.0 425.0C1405.0 425.0 1413.1 406.5 1420.0 395.0C1427.5 382.5 1436.7 365.8 1450.0 350.0C1463.3 334.2 1481.7 315.0 1500.0 300.0C1518.3 285.0 1543.3 273.3 1560.0 260.0C1576.7 246.7 1586.7 230.0 1600.0 220.0C1613.3 210.0 1625.0 206.7 1640.0 200.0C1655.0 193.3 1673.3 190.0 1690.0 180.0C1706.7 170.0 1723.3 153.3 1740.0 140.0C1756.7 126.7 1778.3 102.5 1790.0 100.0Z"/>
</g>

<g class="an" transform="translate(1570 805) scale(0.078125)">
<path d="M900.0 160.0C928.3 160.8 966.7 164.2 1000.0 170.0C1033.3 175.8 1066.7 188.3 1100.0 195.0C1133.3 201.7 1159.6 207.3 1200.0 210.0C1241.7 212.8 1300.0 212.3 1350.0 212.0C1400.0 211.7 1455.0 209.2 1500.0 208.0C1545.0 206.8 1588.3 203.8 1620.0 205.0C1648.3 206.0 1671.7 208.3 1690.0 215.0C1708.3 221.7 1716.7 230.8 1730.0 245.0C1743.3 259.2 1756.7 279.2 1770.0 300.0C1783.3 320.8 1796.7 345.0 1810.0 370.0C1823.3 395.0 1838.3 423.3 1850.0 450.0C1861.7 476.7 1871.7 501.7 1880.0 530.0C1888.3 558.3 1893.3 588.3 1900.0 620.0C1906.7 651.7 1915.0 686.7 1920.0 720.0C1925.0 753.3 1929.2 790.0 1930.0 820.0C1930.8 850.0 1929.2 873.3 1925.0 900.0C1920.8 926.7 1912.5 955.0 1905.0 980.0C1897.5 1005.0 1889.2 1028.3 1880.0 1050.0C1870.8 1071.7 1861.7 1088.3 1850.0 1110.0C1838.3 1131.7 1821.7 1156.7 1810.0 1180.0C1798.3 1203.3 1787.5 1225.0 1780.0 1250.0C1772.5 1275.0 1768.3 1305.0 1765.0 1330.0C1761.7 1355.0 1762.5 1376.7 1760.0 1400.0C1757.5 1423.3 1755.0 1450.0 1750.0 1470.0C1745.0 1490.0 1740.0 1507.5 1730.0 1520.0C1720.0 1532.5 1705.0 1541.7 1690.0 1545.0C1675.0 1548.3 1654.2 1545.8 1640.0 1540.0C1625.8 1534.2 1611.7 1519.2 1605.0 1510.0C1599.0 1501.8 1596.7 1490.8 1600.0 1485.0C1603.3 1479.2 1616.7 1474.2 1625.0 1475.0C1633.3 1475.8 1641.7 1489.2 1650.0 1490.0C1658.3 1490.8 1670.8 1489.9 1675.0 1480.0C1680.0 1468.3 1677.6 1444.0 1680.0 1420.0C1682.5 1395.0 1685.8 1361.7 1690.0 1330.0C1694.2 1298.3 1700.0 1263.3 1705.0 1230.0C1710.0 1196.7 1714.2 1161.7 1720.0 1130.0C1725.8 1098.3 1735.8 1068.3 1740.0 1040.0C1744.2 1011.7 1747.5 978.3 1745.0 960.0C1743.1 945.7 1732.5 941.7 1725.0 930.0C1717.5 918.3 1707.5 903.3 1700.0 890.0C1692.5 876.7 1690.0 860.0 1680.0 850.0C1670.0 840.0 1653.3 835.0 1640.0 830.0C1626.7 825.0 1613.3 825.0 1600.0 820.0C1586.7 815.0 1571.7 805.0 1560.0 800.0C1548.4 795.0 1530.0 790.0 1530.0 790.0C1530.0 790.0 1510.0 811.7 1500.0 820.0C1490.0 828.3 1478.3 835.0 1470.0 840.0C1462.3 844.6 1450.0 850.0 1450.0 850.0C1450.0 850.0 1456.1 880.0 1460.0 900.0C1464.2 921.7 1470.0 950.0 1475.0 980.0C1480.0 1010.0 1485.8 1046.7 1490.0 1080.0C1494.2 1113.3 1497.5 1146.7 1500.0 1180.0C1502.5 1213.3 1505.0 1246.7 1505.0 1280.0C1505.0 1313.3 1499.2 1355.0 1500.0 1380.0C1500.7 1400.4 1503.3 1416.7 1510.0 1430.0C1516.7 1443.3 1530.0 1450.0 1540.0 1460.0C1550.0 1470.0 1564.2 1478.3 1570.0 1490.0C1575.8 1501.7 1586.7 1521.7 1575.0 1530.0C1563.3 1538.3 1529.2 1538.3 1500.0 1540.0C1470.8 1541.7 1425.0 1541.7 1400.0 1540.0C1379.6 1538.6 1359.2 1538.3 1350.0 1530.0C1340.8 1521.7 1342.5 1503.3 1345.0 1490.0C1347.5 1476.7 1361.8 1467.6 1365.0 1450.0C1368.3 1431.7 1369.1 1407.7 1365.0 1380.0C1360.8 1351.7 1347.5 1308.3 1340.0 1280.0C1332.5 1251.8 1325.0 1225.0 1320.0 1210.0C1317.2 1201.5 1310.0 1190.0 1310.0 1190.0C1310.0 1190.0 1290.0 1235.0 1280.0 1260.0C1270.0 1285.0 1260.8 1315.0 1250.0 1340.0C1239.2 1365.0 1216.7 1391.7 1215.0 1410.0C1213.3 1428.3 1230.0 1436.7 1240.0 1450.0C1250.0 1463.3 1268.3 1476.7 1275.0 1490.0C1281.7 1503.3 1292.5 1522.5 1280.0 1530.0C1267.5 1537.5 1230.0 1534.2 1200.0 1535.0C1170.0 1535.8 1122.5 1536.7 1100.0 1535.0C1085.5 1533.9 1070.8 1534.2 1065.0 1525.0C1059.2 1515.8 1060.8 1494.2 1065.0 1480.0C1069.2 1465.8 1084.2 1456.7 1090.0 1440.0C1095.8 1423.3 1097.7 1404.2 1100.0 1380.0C1102.5 1353.3 1103.3 1313.3 1105.0 1280.0C1106.7 1246.7 1108.3 1213.3 1110.0 1180.0C1111.7 1146.7 1114.2 1111.7 1115.0 1080.0C1115.8 1048.3 1115.0 990.0 1115.0 990.0C1115.0 990.0 1079.2 983.3 1060.0 985.0C1040.8 986.7 1020.0 994.2 1000.0 1000.0C980.0 1005.8 960.0 1014.2 940.0 1020.0C920.0 1025.8 900.0 1031.7 880.0 1035.0C860.0 1038.3 840.0 1040.0 820.0 1040.0C800.0 1040.0 780.0 1037.5 760.0 1035.0C740.0 1032.5 720.0 1025.8 700.0 1025.0C680.0 1024.2 658.3 1027.5 640.0 1030.0C621.7 1032.5 603.3 1033.3 590.0 1040.0C576.7 1046.7 568.3 1058.3 560.0 1070.0C551.7 1081.7 550.0 1098.3 540.0 1110.0C530.0 1121.7 515.0 1130.8 500.0 1140.0C485.0 1149.2 465.0 1156.7 450.0 1165.0C435.0 1173.3 417.5 1177.5 410.0 1190.0C402.5 1202.5 404.2 1221.7 405.0 1240.0C405.8 1258.3 411.7 1280.0 415.0 1300.0C418.3 1320.0 420.8 1341.7 425.0 1360.0C429.2 1378.3 433.3 1395.0 440.0 1410.0C446.7 1425.0 457.5 1436.7 465.0 1450.0C472.5 1463.3 484.2 1479.2 485.0 1490.0C485.8 1500.8 481.0 1511.1 470.0 1515.0C455.8 1520.0 428.1 1520.8 400.0 1520.0C371.7 1519.2 330.0 1514.2 300.0 1510.0C270.0 1505.8 243.3 1501.7 220.0 1495.0C196.7 1488.3 174.2 1480.8 160.0 1470.0C145.8 1459.2 138.3 1445.0 135.0 1430.0C131.7 1415.0 135.8 1396.7 140.0 1380.0C144.2 1363.3 154.4 1350.8 160.0 1330.0C165.8 1308.3 170.8 1280.0 175.0 1250.0C179.2 1220.0 182.2 1183.3 185.0 1150.0C187.8 1116.7 192.0 1083.3 192.0 1050.0C192.0 1016.7 187.0 983.3 185.0 950.0C183.0 916.7 181.7 883.3 180.0 850.0C178.3 816.7 174.2 783.3 175.0 750.0C175.8 716.7 180.8 680.0 185.0 650.0C189.2 620.0 193.3 595.0 200.0 570.0C206.7 545.0 215.0 521.7 225.0 500.0C235.0 478.3 245.8 460.0 260.0 440.0C274.2 420.0 291.7 398.3 310.0 380.0C328.3 361.7 348.3 345.0 370.0 330.0C391.7 315.0 415.0 302.5 440.0 290.0C465.0 277.5 493.3 265.8 520.0 255.0C546.7 244.2 573.3 235.0 600.0 225.0C626.7 215.0 653.3 202.5 680.0 195.0C706.7 187.5 735.0 185.0 760.0 180.0C785.0 175.0 806.7 168.3 830.0 165.0C853.3 161.7 871.9 159.2 900.0 160.0Z"/>
</g>

<g class="an" transform="translate(1655 1020) scale(0.156250)">
<path d="M1890.0 45.0C1901.7 45.8 1913.0 52.5 1920.0 60.0C1927.0 67.5 1930.3 79.2 1932.0 90.0C1933.7 100.8 1934.5 114.2 1930.0 125.0C1925.5 135.8 1915.0 145.0 1905.0 155.0C1895.0 165.0 1880.8 175.0 1870.0 185.0C1859.2 195.0 1848.3 204.2 1840.0 215.0C1831.7 225.8 1825.8 235.8 1820.0 250.0C1814.2 264.2 1810.0 283.3 1805.0 300.0C1800.0 316.7 1795.8 331.7 1790.0 350.0C1784.2 368.3 1777.5 391.7 1770.0 410.0C1762.5 428.3 1755.0 443.3 1745.0 460.0C1735.0 476.7 1721.7 495.8 1710.0 510.0C1698.3 524.2 1684.2 536.3 1675.0 545.0C1667.4 552.2 1655.0 562.0 1655.0 562.0C1655.0 562.0 1683.0 574.0 1700.0 585.0C1717.5 596.3 1740.0 612.5 1760.0 630.0C1780.0 647.5 1801.7 670.0 1820.0 690.0C1838.3 710.0 1855.8 731.7 1870.0 750.0C1884.2 768.3 1895.0 783.3 1905.0 800.0C1915.0 816.7 1922.5 835.0 1930.0 850.0C1937.5 865.0 1947.5 880.0 1950.0 890.0C1952.0 898.0 1950.0 906.3 1945.0 910.0C1940.0 913.7 1929.1 916.2 1920.0 912.0C1909.2 907.0 1895.0 893.7 1880.0 880.0C1865.0 866.3 1846.7 846.7 1830.0 830.0C1813.3 813.3 1796.7 795.0 1780.0 780.0C1763.3 765.0 1746.7 750.8 1730.0 740.0C1713.3 729.2 1694.2 720.8 1680.0 715.0C1666.5 709.5 1645.0 705.0 1645.0 705.0C1645.0 705.0 1640.8 716.2 1635.0 720.0C1629.2 723.8 1618.3 728.8 1610.0 728.0C1601.7 727.2 1592.5 721.3 1585.0 715.0C1577.5 708.7 1570.8 698.8 1565.0 690.0C1559.2 681.2 1550.0 662.0 1550.0 662.0C1550.0 662.0 1518.3 696.2 1500.0 710.0C1481.7 723.8 1460.0 735.0 1440.0 745.0C1420.0 755.0 1401.7 762.5 1380.0 770.0C1358.3 777.5 1333.3 785.0 1310.0 790.0C1286.7 795.0 1263.3 797.5 1240.0 800.0C1216.7 802.5 1190.0 804.2 1170.0 805.0C1150.0 805.8 1133.3 803.3 1120.0 805.0C1107.4 806.6 1100.0 812.5 1090.0 815.0C1080.0 817.5 1070.0 820.0 1060.0 820.0C1050.0 820.0 1040.0 817.5 1030.0 815.0C1020.0 812.5 1011.7 807.5 1000.0 805.0C988.3 802.5 976.0 801.6 960.0 800.0C943.3 798.3 920.0 797.5 900.0 795.0C880.0 792.5 860.0 789.2 840.0 785.0C820.0 780.8 800.0 775.8 780.0 770.0C760.0 764.2 740.0 757.5 720.0 750.0C700.0 742.5 680.0 733.3 660.0 725.0C640.0 716.7 620.0 708.3 600.0 700.0C580.0 691.7 558.3 682.0 540.0 675.0C521.7 668.0 503.3 661.8 490.0 658.0C478.2 654.6 470.0 652.5 460.0 652.0C450.0 651.5 441.4 651.0 430.0 655.0C416.7 659.7 398.3 670.8 380.0 680.0C361.7 689.2 341.7 699.2 320.0 710.0C298.3 720.8 273.3 734.2 250.0 745.0C226.7 755.8 203.3 765.8 180.0 775.0C156.7 784.2 129.2 793.8 110.0 800.0C92.3 805.7 65.0 812.0 65.0 812.0C65.0 812.0 79.9 792.7 90.0 780.0C100.8 766.3 116.7 746.7 130.0 730.0C143.3 713.3 156.7 696.7 170.0 680.0C183.3 663.3 198.3 642.5 210.0 630.0C220.7 618.6 230.0 610.8 240.0 605.0C250.0 599.2 260.0 597.5 270.0 595.0C280.0 592.5 300.0 590.0 300.0 590.0C300.0 590.0 285.0 573.3 280.0 565.0C275.0 556.7 269.2 550.7 270.0 540.0C270.8 529.2 278.3 515.0 285.0 500.0C291.7 485.0 300.8 466.7 310.0 450.0C319.2 433.3 332.5 416.7 340.0 400.0C347.5 383.3 351.3 366.7 355.0 350.0C358.7 333.3 358.7 311.7 362.0 300.0C364.6 290.8 368.7 282.5 375.0 280.0C381.3 277.5 390.5 281.3 400.0 285.0C410.8 289.2 427.5 297.5 440.0 305.0C452.5 312.5 466.3 320.8 475.0 330.0C483.7 339.2 488.7 346.6 492.0 360.0C495.7 375.0 496.0 400.0 497.0 420.0C498.0 440.0 497.2 461.7 498.0 480.0C498.8 498.3 499.2 517.5 502.0 530.0C504.5 541.0 515.0 555.0 515.0 555.0C515.0 555.0 542.5 560.0 560.0 565.0C577.5 570.0 600.0 579.2 620.0 585.0C640.0 590.8 660.0 596.3 680.0 600.0C700.0 603.7 720.0 607.0 740.0 607.0C760.0 607.0 780.0 603.7 800.0 600.0C820.0 596.3 841.7 590.0 860.0 585.0C878.3 580.0 896.7 575.8 910.0 570.0C923.2 564.2 932.5 556.7 940.0 550.0C947.5 543.4 955.0 530.0 955.0 530.0C955.0 530.0 951.7 517.0 955.0 512.0C958.3 507.0 965.9 502.1 975.0 500.0C989.2 496.7 1015.8 494.0 1040.0 492.0C1064.2 490.0 1096.7 490.0 1120.0 488.0C1143.3 486.0 1158.3 484.7 1180.0 480.0C1201.7 475.3 1226.7 467.5 1250.0 460.0C1273.3 452.5 1296.7 445.0 1320.0 435.0C1343.3 425.0 1368.3 412.5 1390.0 400.0C1411.7 387.5 1431.7 373.3 1450.0 360.0C1468.3 346.7 1485.0 333.3 1500.0 320.0C1515.0 306.7 1526.7 293.3 1540.0 280.0C1553.3 266.7 1566.7 252.5 1580.0 240.0C1593.3 227.5 1603.3 217.5 1620.0 205.0C1636.7 192.5 1660.0 178.3 1680.0 165.0C1700.0 151.7 1720.0 138.3 1740.0 125.0C1760.0 111.7 1781.7 96.7 1800.0 85.0C1818.3 73.3 1835.0 61.7 1850.0 55.0C1865.0 48.3 1878.3 44.2 1890.0 45.0Z"/>
</g>

<text x="201.39" y="274.8" font-size="44" font-weight="bold" fill="#fff">A</text>
<text x="384.64" y="233.8" font-size="44" font-weight="bold" fill="#fff">B</text>
<text x="564.31" y="353" font-size="44" font-weight="bold" fill="#fff">C</text>
<text x="734.66" y="360" font-size="44" font-weight="bold" fill="#fff">D</text>
<text x="893.41" y="662.7" font-size="44" font-weight="bold" fill="#fff">E</text>
<text x="1075.80" y="662.5" font-size="44" font-weight="bold" fill="#fff">F</text>
<text x="1245.10" y="576.25" font-size="44" font-weight="bold" fill="#fff">G</text>
<text x="1433.72" y="433.75" font-size="44" font-weight="bold" fill="#fff">H</text>
<text x="1633.64" y="638.25" font-size="44" font-weight="bold" fill="#fff">I</text>
<text x="1807.19" y="953.75" font-size="44" font-weight="bold" fill="#fff">J</text>
<text x="814.88" y="343.7" font-size="44.3" fill="#fff">Ultrasonic frequency</text>
<text x="822.91" y="1193.0" font-size="44.3" fill="#fff">Infrasonic frequency</text>
<text x="173.39" y="806.3" font-size="44" fill="#fff">Human</text>
<text x="96.41" y="1003.8" font-size="43.8" fill="#fff">Range of human hearing frequency 20Hz-20kHz</text>
<text x="1858.23" y="583.7" font-size="44" font-weight="bold" fill="#3a3a3c">18 kHz</text>
<text x="1878.99" y="976.9" font-size="44" font-weight="bold" fill="#3a3a3c">30 Hz</text>
<rect x="2.5" y="1373" width="2045" height="377.5" fill="#dcdcde" stroke="#c5c5c8" stroke-width="1"/>
<text x="168.86" y="1438.7" font-size="44.1" font-weight="bold" fill="#3a3a3c">A.</text>
<text x="237.23" y="1438.7" font-size="44.1" fill="#3a3a3c">Bat</text>
<text x="428.78" y="1438.7" font-size="44.1" fill="#3a3a3c">2kHz - 120kHz</text>
<text x="169.95" y="1507.4" font-size="44.1" font-weight="bold" fill="#3a3a3c">B.</text>
<text x="237.23" y="1507.4" font-size="44.1" fill="#3a3a3c">Dolphin</text>
<text x="429.04" y="1507.4" font-size="44.1" fill="#3a3a3c">75Hz - 150kHz</text>
<text x="169.59" y="1576.2" font-size="44.1" font-weight="bold" fill="#3a3a3c">C.</text>
<text x="237.53" y="1576.2" font-size="44.1" fill="#3a3a3c">Insect</text>
<text x="427.34" y="1576.2" font-size="44.1" fill="#3a3a3c">10kHz - 80kHz</text>
<text x="169.50" y="1645.1" font-size="44.1" font-weight="bold" fill="#3a3a3c">D.</text>
<text x="237.23" y="1645.1" font-size="44.1" fill="#3a3a3c">Rat</text>
<text x="428.93" y="1645.1" font-size="44.1" fill="#3a3a3c">900Hz - 79kHz</text>
<text x="169.50" y="1713.5" font-size="44.1" font-weight="bold" fill="#3a3a3c">E.</text>
<text x="235.48" y="1713.5" font-size="44.1" fill="#3a3a3c">Bird</text>
<text x="427.34" y="1713.5" font-size="44.1" fill="#3a3a3c">1kHz - 4kHz</text>
<text x="1260.10" y="1438.7" font-size="44.1" font-weight="bold" fill="#3a3a3c">F.</text>
<text x="1318.38" y="1438.7" font-size="44.1" fill="#3a3a3c">Frog &amp; Toad</text>
<text x="1603.03" y="1438.7" font-size="44.1" fill="#3a3a3c">50Hz - 4kHz</text>
<text x="1247.59" y="1507.4" font-size="44.1" font-weight="bold" fill="#3a3a3c">G.</text>
<text x="1317.86" y="1507.4" font-size="44.1" fill="#3a3a3c">Crocodile</text>
<text x="1600.94" y="1507.4" font-size="44.1" fill="#3a3a3c">16Hz - 18kHz</text>
<text x="1247.75" y="1576.2" font-size="44.1" font-weight="bold" fill="#3a3a3c">H.</text>
<text x="1315.48" y="1576.2" font-size="44.1" fill="#3a3a3c">Dog</text>
<text x="1602.06" y="1576.2" font-size="44.1" fill="#3a3a3c">64Hz - 44kHz</text>
<text x="1260.05" y="1645.1" font-size="44.1" font-weight="bold" fill="#3a3a3c">I.</text>
<text x="1309.58" y="1645.1" font-size="44.1" fill="#3a3a3c">Elephant</text>
<text x="1601.44" y="1645.1" font-size="44.1" fill="#3a3a3c">17Hz - 10.5kHz</text>
<text x="1247.53" y="1713.5" font-size="44.1" font-weight="bold" fill="#3a3a3c">J.</text>
<text x="1308.68" y="1713.5" font-size="44.1" fill="#3a3a3c">Blue whale</text>
<text x="1601.44" y="1713.5" font-size="44.1" fill="#3a3a3c">14Hz - 36Hz</text>
</svg>
</body>
</html>
